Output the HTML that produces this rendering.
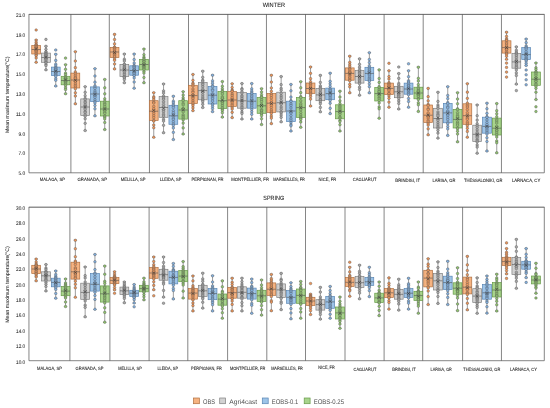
<!DOCTYPE html>
<html><head><meta charset="utf-8"><title>Seasonal mean maximum temperature box plots</title>
<style>
html,body{margin:0;padding:0;background:#fff}
body{width:550px;height:408px;overflow:hidden}
svg{display:block}
#frames{filter:blur(.33px)}
#boxes,#legend{filter:blur(.4px)}
#labels{filter:blur(.25px)}
text{font-family:"Liberation Sans",sans-serif;fill:#242424;stroke:#242424;stroke-width:.05px;text-rendering:geometricPrecision}
.c{fill:#1c1c1c;stroke:#1c1c1c;stroke-width:.08px}
.l{fill:#505050;stroke:none}
</style></head><body>
<svg width="550" height="408" viewBox="0 0 550 408">
<rect width="550" height="408" fill="#fff"/>
<g id="frames">
<path d="M28.95 14.4H544.3V172.8H28.95ZM70.9 14.4V172.8M109.3 14.4V172.8M149.45 14.4V172.8M188.5 14.4V172.8M227.8 14.4V172.8M266.45 14.4V172.8M305.5 14.4V172.8M344.45 14.4V172.8M384.1 14.4V172.8M423.2 14.4V172.8M462.35 14.4V172.8M501.45 14.4V172.8" fill="none" stroke="#4c4c4c" stroke-width=".68"/>
<path d="M28.65 14.4H544.5999999999999" fill="none" stroke="#484848" stroke-width=".4"/>
<path d="M28.95 207.2H544.3V360.7H28.95ZM69.9 207.2V360.7M109.9 207.2V360.7M149.1 207.2V360.7M187.8 207.2V360.7M227.6 207.2V360.7M266.8 207.2V360.7M305.5 207.2V360.7M345 207.2V360.7M384.1 207.2V360.7M422.7 207.2V360.7M462.6 207.2V360.7M501.45 207.2V360.7" fill="none" stroke="#4c4c4c" stroke-width=".68"/>
<path d="M28.65 207.2H544.5999999999999" fill="none" stroke="#484848" stroke-width=".4"/>
</g>
<g id="boxes">
<path d="M36.15 39.9V45.5M36.15 54V62.5M34.55 39.9h3.2M34.55 62.5h3.2" stroke="#595959" stroke-width=".6" fill="none"/><rect x="31.75" y="45.5" width="8.8" height="8.5" fill="#f6b381" stroke="#b07040" stroke-width=".7"/><path d="M31.75 49.5h8.8" stroke="#4d4d4d" stroke-width=".6"/><g fill="#ee9558" stroke="#505050" stroke-width=".4"><circle cx="36.15" cy="40.1" r="1.3"/><circle cx="36.15" cy="42.19" r="1.3"/><circle cx="36.15" cy="44.15" r="1.3"/><circle cx="36.15" cy="44.81" r="1.3"/><circle cx="36.15" cy="45.76" r="1.3"/><circle cx="36.15" cy="46.59" r="1.3"/><circle cx="36.15" cy="47.33" r="1.3"/><circle cx="36.15" cy="48.56" r="1.3"/><circle cx="36.15" cy="49.2" r="1.3"/><circle cx="36.15" cy="50.51" r="1.3"/><circle cx="36.15" cy="51.3" r="1.3"/><circle cx="36.15" cy="52.37" r="1.3"/><circle cx="36.15" cy="53.68" r="1.3"/><circle cx="36.15" cy="54.94" r="1.3"/><circle cx="36.15" cy="55.76" r="1.3"/><circle cx="36.15" cy="57.97" r="1.3"/><circle cx="36.15" cy="62.3" r="1.3"/><circle cx="36.15" cy="30" r="1.3"/></g><path d="M34.65 47.4l3 3M34.65 50.4l3 -3" stroke="#333" stroke-width=".55" fill="none"/>
<path d="M45.95 46.1V53.1M45.95 62.3V70M44.35 46.1h3.2M44.35 70h3.2" stroke="#595959" stroke-width=".6" fill="none"/><rect x="41.55" y="53.1" width="8.8" height="9.2" fill="#d2d2d2" stroke="#808080" stroke-width=".7"/><path d="M41.55 57.5h8.8" stroke="#4d4d4d" stroke-width=".6"/><g fill="#a8a8a8" stroke="#505050" stroke-width=".4"><circle cx="45.95" cy="46.3" r="1.3"/><circle cx="45.95" cy="49.31" r="1.3"/><circle cx="45.95" cy="51.75" r="1.3"/><circle cx="45.95" cy="52.22" r="1.3"/><circle cx="45.95" cy="53.62" r="1.3"/><circle cx="45.95" cy="54.24" r="1.3"/><circle cx="45.95" cy="55.17" r="1.3"/><circle cx="45.95" cy="56.19" r="1.3"/><circle cx="45.95" cy="57.36" r="1.3"/><circle cx="45.95" cy="58.88" r="1.3"/><circle cx="45.95" cy="59.51" r="1.3"/><circle cx="45.95" cy="60.95" r="1.3"/><circle cx="45.95" cy="62.13" r="1.3"/><circle cx="45.95" cy="62.77" r="1.3"/><circle cx="45.95" cy="64.39" r="1.3"/><circle cx="45.95" cy="65.66" r="1.3"/><circle cx="45.95" cy="69.8" r="1.3"/><circle cx="45.95" cy="39.4" r="1.3"/></g><path d="M44.45 55.7l3 3M44.45 58.7l3 -3" stroke="#333" stroke-width=".55" fill="none"/>
<path d="M55.75 54.1V67.1M55.75 75.6V86.2M54.15 54.1h3.2M54.15 86.2h3.2" stroke="#595959" stroke-width=".6" fill="none"/><rect x="51.35" y="67.1" width="8.8" height="8.5" fill="#9dc4e8" stroke="#5a86b4" stroke-width=".7"/><path d="M51.35 71.5h8.8" stroke="#4d4d4d" stroke-width=".6"/><g fill="#82b0e0" stroke="#505050" stroke-width=".4"><circle cx="55.75" cy="54.3" r="1.3"/><circle cx="55.75" cy="60.42" r="1.3"/><circle cx="55.75" cy="64.22" r="1.3"/><circle cx="55.75" cy="66.09" r="1.3"/><circle cx="55.75" cy="67.67" r="1.3"/><circle cx="55.75" cy="68.29" r="1.3"/><circle cx="55.75" cy="69.25" r="1.3"/><circle cx="55.75" cy="70.23" r="1.3"/><circle cx="55.75" cy="71.69" r="1.3"/><circle cx="55.75" cy="72.18" r="1.3"/><circle cx="55.75" cy="73.29" r="1.3"/><circle cx="55.75" cy="74.39" r="1.3"/><circle cx="55.75" cy="75.25" r="1.3"/><circle cx="55.75" cy="76.33" r="1.3"/><circle cx="55.75" cy="78.59" r="1.3"/><circle cx="55.75" cy="80.24" r="1.3"/><circle cx="55.75" cy="86" r="1.3"/><circle cx="55.75" cy="50" r="1.3"/></g><path d="M54.25 69.7l3 3M54.25 72.7l3 -3" stroke="#333" stroke-width=".55" fill="none"/>
<path d="M65.55 64.5V76.3M65.55 84.8V93.9M63.95 64.5h3.2M63.95 93.9h3.2" stroke="#595959" stroke-width=".6" fill="none"/><rect x="61.15" y="76.3" width="8.8" height="8.5" fill="#a8d48c" stroke="#679a48" stroke-width=".7"/><path d="M61.15 80.5h8.8" stroke="#4d4d4d" stroke-width=".6"/><g fill="#90c46e" stroke="#505050" stroke-width=".4"><circle cx="65.55" cy="64.7" r="1.3"/><circle cx="65.55" cy="69.32" r="1.3"/><circle cx="65.55" cy="73.16" r="1.3"/><circle cx="65.55" cy="74.8" r="1.3"/><circle cx="65.55" cy="76.66" r="1.3"/><circle cx="65.55" cy="77.72" r="1.3"/><circle cx="65.55" cy="78.57" r="1.3"/><circle cx="65.55" cy="79.77" r="1.3"/><circle cx="65.55" cy="80.37" r="1.3"/><circle cx="65.55" cy="81.65" r="1.3"/><circle cx="65.55" cy="82.59" r="1.3"/><circle cx="65.55" cy="83.59" r="1.3"/><circle cx="65.55" cy="84.52" r="1.3"/><circle cx="65.55" cy="85.82" r="1.3"/><circle cx="65.55" cy="87.87" r="1.3"/><circle cx="65.55" cy="89.49" r="1.3"/><circle cx="65.55" cy="93.7" r="1.3"/><circle cx="65.55" cy="58.1" r="1.3"/></g><path d="M64.05 78.4l3 3M64.05 81.4l3 -3" stroke="#333" stroke-width=".55" fill="none"/>
<path d="M75.35 51.5V73.1M75.35 88V104M73.75 51.5h3.2M73.75 104h3.2" stroke="#595959" stroke-width=".6" fill="none"/><rect x="70.95" y="73.1" width="8.8" height="14.9" fill="#f6b381" stroke="#b07040" stroke-width=".7"/><path d="M70.95 80h8.8" stroke="#4d4d4d" stroke-width=".6"/><g fill="#ee9558" stroke="#505050" stroke-width=".4"><circle cx="75.35" cy="51.7" r="1.3"/><circle cx="75.35" cy="61.03" r="1.3"/><circle cx="75.35" cy="67.66" r="1.3"/><circle cx="75.35" cy="71.89" r="1.3"/><circle cx="75.35" cy="73.44" r="1.3"/><circle cx="75.35" cy="75.38" r="1.3"/><circle cx="75.35" cy="77.19" r="1.3"/><circle cx="75.35" cy="78.2" r="1.3"/><circle cx="75.35" cy="80.58" r="1.3"/><circle cx="75.35" cy="81.69" r="1.3"/><circle cx="75.35" cy="83.91" r="1.3"/><circle cx="75.35" cy="85.64" r="1.3"/><circle cx="75.35" cy="87.16" r="1.3"/><circle cx="75.35" cy="88.85" r="1.3"/><circle cx="75.35" cy="92.85" r="1.3"/><circle cx="75.35" cy="96.01" r="1.3"/><circle cx="75.35" cy="103.8" r="1.3"/></g><path d="M73.85 78.8l3 3M73.85 81.8l3 -3" stroke="#333" stroke-width=".55" fill="none"/>
<path d="M85.15 86.5V98.9M85.15 115.4V130.7M83.55 86.5h3.2M83.55 130.7h3.2" stroke="#595959" stroke-width=".6" fill="none"/><rect x="80.75" y="98.9" width="8.8" height="16.5" fill="#d2d2d2" stroke="#808080" stroke-width=".7"/><path d="M80.75 107h8.8" stroke="#4d4d4d" stroke-width=".6"/><g fill="#a8a8a8" stroke="#505050" stroke-width=".4"><circle cx="85.15" cy="86.7" r="1.3"/><circle cx="85.15" cy="92.32" r="1.3"/><circle cx="85.15" cy="95.72" r="1.3"/><circle cx="85.15" cy="98.43" r="1.3"/><circle cx="85.15" cy="99.8" r="1.3"/><circle cx="85.15" cy="101.77" r="1.3"/><circle cx="85.15" cy="102.89" r="1.3"/><circle cx="85.15" cy="104.98" r="1.3"/><circle cx="85.15" cy="106.81" r="1.3"/><circle cx="85.15" cy="109.51" r="1.3"/><circle cx="85.15" cy="111.59" r="1.3"/><circle cx="85.15" cy="112.45" r="1.3"/><circle cx="85.15" cy="114.46" r="1.3"/><circle cx="85.15" cy="116.14" r="1.3"/><circle cx="85.15" cy="118.81" r="1.3"/><circle cx="85.15" cy="123.32" r="1.3"/><circle cx="85.15" cy="130.5" r="1.3"/></g><path d="M83.65 105.5l3 3M83.65 108.5l3 -3" stroke="#333" stroke-width=".55" fill="none"/>
<path d="M94.95 68.5V86.9M94.95 101.6V116M93.35 68.5h3.2M93.35 116h3.2" stroke="#595959" stroke-width=".6" fill="none"/><rect x="90.55" y="86.9" width="8.8" height="14.7" fill="#9dc4e8" stroke="#5a86b4" stroke-width=".7"/><path d="M90.55 94h8.8" stroke="#4d4d4d" stroke-width=".6"/><g fill="#82b0e0" stroke="#505050" stroke-width=".4"><circle cx="94.95" cy="68.7" r="1.3"/><circle cx="94.95" cy="76" r="1.3"/><circle cx="94.95" cy="82.14" r="1.3"/><circle cx="94.95" cy="85.74" r="1.3"/><circle cx="94.95" cy="87.11" r="1.3"/><circle cx="94.95" cy="88.55" r="1.3"/><circle cx="94.95" cy="91.08" r="1.3"/><circle cx="94.95" cy="92.86" r="1.3"/><circle cx="94.95" cy="94.19" r="1.3"/><circle cx="94.95" cy="96.09" r="1.3"/><circle cx="94.95" cy="97.52" r="1.3"/><circle cx="94.95" cy="99.83" r="1.3"/><circle cx="94.95" cy="101.63" r="1.3"/><circle cx="94.95" cy="102.95" r="1.3"/><circle cx="94.95" cy="105.54" r="1.3"/><circle cx="94.95" cy="108.81" r="1.3"/><circle cx="94.95" cy="115.8" r="1.3"/></g><path d="M93.45 92.8l3 3M93.45 95.8l3 -3" stroke="#333" stroke-width=".55" fill="none"/>
<path d="M104.75 79.3V101.2M104.75 116V129.7M103.15 79.3h3.2M103.15 129.7h3.2" stroke="#595959" stroke-width=".6" fill="none"/><rect x="100.35" y="101.2" width="8.8" height="14.8" fill="#a8d48c" stroke="#679a48" stroke-width=".7"/><path d="M100.35 109h8.8" stroke="#4d4d4d" stroke-width=".6"/><g fill="#90c46e" stroke="#505050" stroke-width=".4"><circle cx="104.75" cy="79.5" r="1.3"/><circle cx="104.75" cy="87.84" r="1.3"/><circle cx="104.75" cy="93.85" r="1.3"/><circle cx="104.75" cy="98.87" r="1.3"/><circle cx="104.75" cy="101.22" r="1.3"/><circle cx="104.75" cy="103.29" r="1.3"/><circle cx="104.75" cy="104.75" r="1.3"/><circle cx="104.75" cy="106.52" r="1.3"/><circle cx="104.75" cy="108.55" r="1.3"/><circle cx="104.75" cy="110.19" r="1.3"/><circle cx="104.75" cy="112.14" r="1.3"/><circle cx="104.75" cy="113.39" r="1.3"/><circle cx="104.75" cy="116" r="1.3"/><circle cx="104.75" cy="117.18" r="1.3"/><circle cx="104.75" cy="118.88" r="1.3"/><circle cx="104.75" cy="122.47" r="1.3"/><circle cx="104.75" cy="129.5" r="1.3"/></g><path d="M103.25 107.5l3 3M103.25 110.5l3 -3" stroke="#333" stroke-width=".55" fill="none"/>
<path d="M114.55 34.2V47.4M114.55 57.5V69.1M112.95 34.2h3.2M112.95 69.1h3.2" stroke="#595959" stroke-width=".6" fill="none"/><rect x="110.15" y="47.4" width="8.8" height="10.1" fill="#f6b381" stroke="#b07040" stroke-width=".7"/><path d="M110.15 52h8.8" stroke="#4d4d4d" stroke-width=".6"/><g fill="#ee9558" stroke="#505050" stroke-width=".4"><circle cx="114.55" cy="34.4" r="1.3"/><circle cx="114.55" cy="39.5" r="1.3"/><circle cx="114.55" cy="43.89" r="1.3"/><circle cx="114.55" cy="47" r="1.3"/><circle cx="114.55" cy="47.66" r="1.3"/><circle cx="114.55" cy="48.61" r="1.3"/><circle cx="114.55" cy="49.57" r="1.3"/><circle cx="114.55" cy="51.11" r="1.3"/><circle cx="114.55" cy="52.22" r="1.3"/><circle cx="114.55" cy="53.27" r="1.3"/><circle cx="114.55" cy="54.76" r="1.3"/><circle cx="114.55" cy="55.9" r="1.3"/><circle cx="114.55" cy="56.91" r="1.3"/><circle cx="114.55" cy="58.96" r="1.3"/><circle cx="114.55" cy="60.31" r="1.3"/><circle cx="114.55" cy="63.98" r="1.3"/><circle cx="114.55" cy="68.9" r="1.3"/></g><path d="M113.05 51.1l3 3M113.05 54.1l3 -3" stroke="#333" stroke-width=".55" fill="none"/>
<path d="M124.35 53.9V64.5M124.35 76.5V82.9M122.75 53.9h3.2M122.75 82.9h3.2" stroke="#595959" stroke-width=".6" fill="none"/><rect x="119.95" y="64.5" width="8.8" height="12" fill="#d2d2d2" stroke="#808080" stroke-width=".7"/><path d="M119.95 70h8.8" stroke="#4d4d4d" stroke-width=".6"/><g fill="#a8a8a8" stroke="#505050" stroke-width=".4"><circle cx="124.35" cy="54.1" r="1.3"/><circle cx="124.35" cy="59.28" r="1.3"/><circle cx="124.35" cy="60.98" r="1.3"/><circle cx="124.35" cy="64.06" r="1.3"/><circle cx="124.35" cy="64.84" r="1.3"/><circle cx="124.35" cy="66.49" r="1.3"/><circle cx="124.35" cy="67.28" r="1.3"/><circle cx="124.35" cy="68.45" r="1.3"/><circle cx="124.35" cy="70.04" r="1.3"/><circle cx="124.35" cy="71.53" r="1.3"/><circle cx="124.35" cy="73.2" r="1.3"/><circle cx="124.35" cy="74.71" r="1.3"/><circle cx="124.35" cy="76.43" r="1.3"/><circle cx="124.35" cy="77.16" r="1.3"/><circle cx="124.35" cy="77.89" r="1.3"/><circle cx="124.35" cy="79.51" r="1.3"/><circle cx="124.35" cy="82.7" r="1.3"/></g><path d="M122.85 68.2l3 3M122.85 71.2l3 -3" stroke="#333" stroke-width=".55" fill="none"/>
<path d="M134.15 53.9V65.8M134.15 75.2V88.4M132.55 53.9h3.2M132.55 88.4h3.2" stroke="#595959" stroke-width=".6" fill="none"/><rect x="129.75" y="65.8" width="8.8" height="9.4" fill="#9dc4e8" stroke="#5a86b4" stroke-width=".7"/><path d="M129.75 70.5h8.8" stroke="#4d4d4d" stroke-width=".6"/><g fill="#82b0e0" stroke="#505050" stroke-width=".4"><circle cx="134.15" cy="54.1" r="1.3"/><circle cx="134.15" cy="59.59" r="1.3"/><circle cx="134.15" cy="63.08" r="1.3"/><circle cx="134.15" cy="65.45" r="1.3"/><circle cx="134.15" cy="66.3" r="1.3"/><circle cx="134.15" cy="67.16" r="1.3"/><circle cx="134.15" cy="68.05" r="1.3"/><circle cx="134.15" cy="69.48" r="1.3"/><circle cx="134.15" cy="70.38" r="1.3"/><circle cx="134.15" cy="71.84" r="1.3"/><circle cx="134.15" cy="72.88" r="1.3"/><circle cx="134.15" cy="73.7" r="1.3"/><circle cx="134.15" cy="75.24" r="1.3"/><circle cx="134.15" cy="75.66" r="1.3"/><circle cx="134.15" cy="77.89" r="1.3"/><circle cx="134.15" cy="81.99" r="1.3"/><circle cx="134.15" cy="88.2" r="1.3"/></g><path d="M132.65 69.3l3 3M132.65 72.3l3 -3" stroke="#333" stroke-width=".55" fill="none"/>
<path d="M143.95 48.9V59.4M143.95 70V82.9M142.35 48.9h3.2M142.35 82.9h3.2" stroke="#595959" stroke-width=".6" fill="none"/><rect x="139.55" y="59.4" width="8.8" height="10.6" fill="#a8d48c" stroke="#679a48" stroke-width=".7"/><path d="M139.55 64.5h8.8" stroke="#4d4d4d" stroke-width=".6"/><g fill="#90c46e" stroke="#505050" stroke-width=".4"><circle cx="143.95" cy="49.1" r="1.3"/><circle cx="143.95" cy="54.75" r="1.3"/><circle cx="143.95" cy="57.17" r="1.3"/><circle cx="143.95" cy="58.6" r="1.3"/><circle cx="143.95" cy="59.83" r="1.3"/><circle cx="143.95" cy="61.15" r="1.3"/><circle cx="143.95" cy="61.75" r="1.3"/><circle cx="143.95" cy="63.43" r="1.3"/><circle cx="143.95" cy="64.87" r="1.3"/><circle cx="143.95" cy="66.05" r="1.3"/><circle cx="143.95" cy="67.31" r="1.3"/><circle cx="143.95" cy="68.36" r="1.3"/><circle cx="143.95" cy="69.39" r="1.3"/><circle cx="143.95" cy="71.37" r="1.3"/><circle cx="143.95" cy="73.07" r="1.3"/><circle cx="143.95" cy="77.5" r="1.3"/><circle cx="143.95" cy="82.7" r="1.3"/></g><path d="M142.45 63.3l3 3M142.45 66.3l3 -3" stroke="#333" stroke-width=".55" fill="none"/>
<path d="M153.75 92.5V100.7M153.75 120.4V137.5M152.15 92.5h3.2M152.15 137.5h3.2" stroke="#595959" stroke-width=".6" fill="none"/><rect x="149.35" y="100.7" width="8.8" height="19.7" fill="#f6b381" stroke="#b07040" stroke-width=".7"/><path d="M149.35 111.2h8.8" stroke="#4d4d4d" stroke-width=".6"/><g fill="#ee9558" stroke="#505050" stroke-width=".4"><circle cx="153.75" cy="92.7" r="1.3"/><circle cx="153.75" cy="96.82" r="1.3"/><circle cx="153.75" cy="97.97" r="1.3"/><circle cx="153.75" cy="99.78" r="1.3"/><circle cx="153.75" cy="102.17" r="1.3"/><circle cx="153.75" cy="102.97" r="1.3"/><circle cx="153.75" cy="106.42" r="1.3"/><circle cx="153.75" cy="108.67" r="1.3"/><circle cx="153.75" cy="111.44" r="1.3"/><circle cx="153.75" cy="113.53" r="1.3"/><circle cx="153.75" cy="115.67" r="1.3"/><circle cx="153.75" cy="117.66" r="1.3"/><circle cx="153.75" cy="120.43" r="1.3"/><circle cx="153.75" cy="121.11" r="1.3"/><circle cx="153.75" cy="125.05" r="1.3"/><circle cx="153.75" cy="127.72" r="1.3"/><circle cx="153.75" cy="137.3" r="1.3"/></g><path d="M152.25 109.1l3 3M152.25 112.1l3 -3" stroke="#333" stroke-width=".55" fill="none"/>
<path d="M163.55 83.8V96.5M163.55 117.3V132.9M161.95 83.8h3.2M161.95 132.9h3.2" stroke="#595959" stroke-width=".6" fill="none"/><rect x="159.15" y="96.5" width="8.8" height="20.8" fill="#d2d2d2" stroke="#808080" stroke-width=".7"/><path d="M159.15 107.5h8.8" stroke="#4d4d4d" stroke-width=".6"/><g fill="#a8a8a8" stroke="#505050" stroke-width=".4"><circle cx="163.55" cy="84" r="1.3"/><circle cx="163.55" cy="90.95" r="1.3"/><circle cx="163.55" cy="93.01" r="1.3"/><circle cx="163.55" cy="96" r="1.3"/><circle cx="163.55" cy="97.74" r="1.3"/><circle cx="163.55" cy="99.21" r="1.3"/><circle cx="163.55" cy="101.87" r="1.3"/><circle cx="163.55" cy="104.54" r="1.3"/><circle cx="163.55" cy="107.03" r="1.3"/><circle cx="163.55" cy="109.95" r="1.3"/><circle cx="163.55" cy="111.72" r="1.3"/><circle cx="163.55" cy="114.29" r="1.3"/><circle cx="163.55" cy="116.13" r="1.3"/><circle cx="163.55" cy="119.18" r="1.3"/><circle cx="163.55" cy="121.07" r="1.3"/><circle cx="163.55" cy="125.29" r="1.3"/><circle cx="163.55" cy="132.7" r="1.3"/></g><path d="M162.05 106.6l3 3M162.05 109.6l3 -3" stroke="#333" stroke-width=".55" fill="none"/>
<path d="M173.35 96.1V105.3M173.35 124.3V139.7M171.75 96.1h3.2M171.75 139.7h3.2" stroke="#595959" stroke-width=".6" fill="none"/><rect x="168.95" y="105.3" width="8.8" height="19" fill="#9dc4e8" stroke="#5a86b4" stroke-width=".7"/><path d="M168.95 115.8h8.8" stroke="#4d4d4d" stroke-width=".6"/><g fill="#82b0e0" stroke="#505050" stroke-width=".4"><circle cx="173.35" cy="96.3" r="1.3"/><circle cx="173.35" cy="101.25" r="1.3"/><circle cx="173.35" cy="102.87" r="1.3"/><circle cx="173.35" cy="104.65" r="1.3"/><circle cx="173.35" cy="105.96" r="1.3"/><circle cx="173.35" cy="107.56" r="1.3"/><circle cx="173.35" cy="110.76" r="1.3"/><circle cx="173.35" cy="112.78" r="1.3"/><circle cx="173.35" cy="114.94" r="1.3"/><circle cx="173.35" cy="118.22" r="1.3"/><circle cx="173.35" cy="119.34" r="1.3"/><circle cx="173.35" cy="121.76" r="1.3"/><circle cx="173.35" cy="124.12" r="1.3"/><circle cx="173.35" cy="125.53" r="1.3"/><circle cx="173.35" cy="127.95" r="1.3"/><circle cx="173.35" cy="132.37" r="1.3"/><circle cx="173.35" cy="139.5" r="1.3"/></g><path d="M171.85 113.7l3 3M171.85 116.7l3 -3" stroke="#333" stroke-width=".55" fill="none"/>
<path d="M183.15 91.5V100.7M183.15 119.1V134.2M181.55 91.5h3.2M181.55 134.2h3.2" stroke="#595959" stroke-width=".6" fill="none"/><rect x="178.75" y="100.7" width="8.8" height="18.4" fill="#a8d48c" stroke="#679a48" stroke-width=".7"/><path d="M178.75 110h8.8" stroke="#4d4d4d" stroke-width=".6"/><g fill="#90c46e" stroke="#505050" stroke-width=".4"><circle cx="183.15" cy="91.7" r="1.3"/><circle cx="183.15" cy="95.08" r="1.3"/><circle cx="183.15" cy="97.81" r="1.3"/><circle cx="183.15" cy="99.54" r="1.3"/><circle cx="183.15" cy="100.69" r="1.3"/><circle cx="183.15" cy="103.36" r="1.3"/><circle cx="183.15" cy="104.9" r="1.3"/><circle cx="183.15" cy="108.42" r="1.3"/><circle cx="183.15" cy="109.33" r="1.3"/><circle cx="183.15" cy="111.88" r="1.3"/><circle cx="183.15" cy="114.99" r="1.3"/><circle cx="183.15" cy="116.58" r="1.3"/><circle cx="183.15" cy="118.11" r="1.3"/><circle cx="183.15" cy="119.89" r="1.3"/><circle cx="183.15" cy="123.11" r="1.3"/><circle cx="183.15" cy="127.9" r="1.3"/><circle cx="183.15" cy="134" r="1.3"/></g><path d="M181.65 108.2l3 3M181.65 111.2l3 -3" stroke="#333" stroke-width=".55" fill="none"/>
<path d="M192.95 74.3V85.3M192.95 103.5V110.8M191.35 74.3h3.2M191.35 110.8h3.2" stroke="#595959" stroke-width=".6" fill="none"/><rect x="188.55" y="85.3" width="8.8" height="18.2" fill="#f6b381" stroke="#b07040" stroke-width=".7"/><path d="M188.55 95.6h8.8" stroke="#4d4d4d" stroke-width=".6"/><g fill="#ee9558" stroke="#505050" stroke-width=".4"><circle cx="192.95" cy="74.5" r="1.3"/><circle cx="192.95" cy="80.38" r="1.3"/><circle cx="192.95" cy="83.13" r="1.3"/><circle cx="192.95" cy="84.2" r="1.3"/><circle cx="192.95" cy="86.01" r="1.3"/><circle cx="192.95" cy="89.08" r="1.3"/><circle cx="192.95" cy="91.33" r="1.3"/><circle cx="192.95" cy="92.56" r="1.3"/><circle cx="192.95" cy="94.96" r="1.3"/><circle cx="192.95" cy="97.38" r="1.3"/><circle cx="192.95" cy="98.76" r="1.3"/><circle cx="192.95" cy="100.84" r="1.3"/><circle cx="192.95" cy="102.48" r="1.3"/><circle cx="192.95" cy="104.17" r="1.3"/><circle cx="192.95" cy="105.77" r="1.3"/><circle cx="192.95" cy="107.89" r="1.3"/><circle cx="192.95" cy="110.6" r="1.3"/></g><path d="M191.45 94.1l3 3M191.45 97.1l3 -3" stroke="#333" stroke-width=".55" fill="none"/>
<path d="M202.75 71V82.4M202.75 99.8V107.7M201.15 71h3.2M201.15 107.7h3.2" stroke="#595959" stroke-width=".6" fill="none"/><rect x="198.35" y="82.4" width="8.8" height="17.4" fill="#d2d2d2" stroke="#808080" stroke-width=".7"/><path d="M198.35 90.6h8.8" stroke="#4d4d4d" stroke-width=".6"/><g fill="#a8a8a8" stroke="#505050" stroke-width=".4"><circle cx="202.75" cy="71.2" r="1.3"/><circle cx="202.75" cy="77.31" r="1.3"/><circle cx="202.75" cy="80.19" r="1.3"/><circle cx="202.75" cy="81.2" r="1.3"/><circle cx="202.75" cy="83.49" r="1.3"/><circle cx="202.75" cy="84.67" r="1.3"/><circle cx="202.75" cy="86.72" r="1.3"/><circle cx="202.75" cy="89.33" r="1.3"/><circle cx="202.75" cy="91.1" r="1.3"/><circle cx="202.75" cy="92.25" r="1.3"/><circle cx="202.75" cy="94.83" r="1.3"/><circle cx="202.75" cy="97.12" r="1.3"/><circle cx="202.75" cy="99.02" r="1.3"/><circle cx="202.75" cy="100.15" r="1.3"/><circle cx="202.75" cy="101.66" r="1.3"/><circle cx="202.75" cy="104.27" r="1.3"/><circle cx="202.75" cy="107.5" r="1.3"/></g><path d="M201.25 89.7l3 3M201.25 92.7l3 -3" stroke="#333" stroke-width=".55" fill="none"/>
<path d="M212.55 75V86.4M212.55 104V111.8M210.95 75h3.2M210.95 111.8h3.2" stroke="#595959" stroke-width=".6" fill="none"/><rect x="208.15" y="86.4" width="8.8" height="17.6" fill="#9dc4e8" stroke="#5a86b4" stroke-width=".7"/><path d="M208.15 95.2h8.8" stroke="#4d4d4d" stroke-width=".6"/><g fill="#82b0e0" stroke="#505050" stroke-width=".4"><circle cx="212.55" cy="75.2" r="1.3"/><circle cx="212.55" cy="80.92" r="1.3"/><circle cx="212.55" cy="83.18" r="1.3"/><circle cx="212.55" cy="85.58" r="1.3"/><circle cx="212.55" cy="86.62" r="1.3"/><circle cx="212.55" cy="89.66" r="1.3"/><circle cx="212.55" cy="90.5" r="1.3"/><circle cx="212.55" cy="93.74" r="1.3"/><circle cx="212.55" cy="94.81" r="1.3"/><circle cx="212.55" cy="97.82" r="1.3"/><circle cx="212.55" cy="98.74" r="1.3"/><circle cx="212.55" cy="101.08" r="1.3"/><circle cx="212.55" cy="104.01" r="1.3"/><circle cx="212.55" cy="104.34" r="1.3"/><circle cx="212.55" cy="106.39" r="1.3"/><circle cx="212.55" cy="108.57" r="1.3"/><circle cx="212.55" cy="111.6" r="1.3"/></g><path d="M211.05 93.7l3 3M211.05 96.7l3 -3" stroke="#333" stroke-width=".55" fill="none"/>
<path d="M222.35 81.4V91.5M222.35 108.6V117.3M220.75 81.4h3.2M220.75 117.3h3.2" stroke="#595959" stroke-width=".6" fill="none"/><rect x="217.95" y="91.5" width="8.8" height="17.1" fill="#a8d48c" stroke="#679a48" stroke-width=".7"/><path d="M217.95 100.7h8.8" stroke="#4d4d4d" stroke-width=".6"/><g fill="#90c46e" stroke="#505050" stroke-width=".4"><circle cx="222.35" cy="81.6" r="1.3"/><circle cx="222.35" cy="86.32" r="1.3"/><circle cx="222.35" cy="88.85" r="1.3"/><circle cx="222.35" cy="90.75" r="1.3"/><circle cx="222.35" cy="91.78" r="1.3"/><circle cx="222.35" cy="93.87" r="1.3"/><circle cx="222.35" cy="96.82" r="1.3"/><circle cx="222.35" cy="98.06" r="1.3"/><circle cx="222.35" cy="101.21" r="1.3"/><circle cx="222.35" cy="102.26" r="1.3"/><circle cx="222.35" cy="103.79" r="1.3"/><circle cx="222.35" cy="105.74" r="1.3"/><circle cx="222.35" cy="107.82" r="1.3"/><circle cx="222.35" cy="109.35" r="1.3"/><circle cx="222.35" cy="110.53" r="1.3"/><circle cx="222.35" cy="112.73" r="1.3"/><circle cx="222.35" cy="117.1" r="1.3"/></g><path d="M220.85 98.6l3 3M220.85 101.6l3 -3" stroke="#333" stroke-width=".55" fill="none"/>
<path d="M232.15 83.6V91.6M232.15 106.4V117.8M230.55 83.6h3.2M230.55 117.8h3.2" stroke="#595959" stroke-width=".6" fill="none"/><rect x="227.75" y="91.6" width="8.8" height="14.8" fill="#f6b381" stroke="#b07040" stroke-width=".7"/><path d="M227.75 100h8.8" stroke="#4d4d4d" stroke-width=".6"/><g fill="#ee9558" stroke="#505050" stroke-width=".4"><circle cx="232.15" cy="83.8" r="1.3"/><circle cx="232.15" cy="87.52" r="1.3"/><circle cx="232.15" cy="90" r="1.3"/><circle cx="232.15" cy="90.8" r="1.3"/><circle cx="232.15" cy="91.6" r="1.3"/><circle cx="232.15" cy="94.11" r="1.3"/><circle cx="232.15" cy="95.69" r="1.3"/><circle cx="232.15" cy="97.48" r="1.3"/><circle cx="232.15" cy="99.53" r="1.3"/><circle cx="232.15" cy="101.03" r="1.3"/><circle cx="232.15" cy="102.7" r="1.3"/><circle cx="232.15" cy="104.32" r="1.3"/><circle cx="232.15" cy="105.82" r="1.3"/><circle cx="232.15" cy="107.57" r="1.3"/><circle cx="232.15" cy="109.04" r="1.3"/><circle cx="232.15" cy="112.33" r="1.3"/><circle cx="232.15" cy="117.6" r="1.3"/></g><path d="M230.65 98.5l3 3M230.65 101.5l3 -3" stroke="#333" stroke-width=".55" fill="none"/>
<path d="M241.95 83.4V92.6M241.95 108.2V119.2M240.35 83.4h3.2M240.35 119.2h3.2" stroke="#595959" stroke-width=".6" fill="none"/><rect x="237.55" y="92.6" width="8.8" height="15.6" fill="#d2d2d2" stroke="#808080" stroke-width=".7"/><path d="M237.55 100.8h8.8" stroke="#4d4d4d" stroke-width=".6"/><g fill="#a8a8a8" stroke="#505050" stroke-width=".4"><circle cx="241.95" cy="83.6" r="1.3"/><circle cx="241.95" cy="88.69" r="1.3"/><circle cx="241.95" cy="89.46" r="1.3"/><circle cx="241.95" cy="91.41" r="1.3"/><circle cx="241.95" cy="93.09" r="1.3"/><circle cx="241.95" cy="95.66" r="1.3"/><circle cx="241.95" cy="96.96" r="1.3"/><circle cx="241.95" cy="98.53" r="1.3"/><circle cx="241.95" cy="100.73" r="1.3"/><circle cx="241.95" cy="102.73" r="1.3"/><circle cx="241.95" cy="104.47" r="1.3"/><circle cx="241.95" cy="106.21" r="1.3"/><circle cx="241.95" cy="107.82" r="1.3"/><circle cx="241.95" cy="109.5" r="1.3"/><circle cx="241.95" cy="111.96" r="1.3"/><circle cx="241.95" cy="113.51" r="1.3"/><circle cx="241.95" cy="119" r="1.3"/></g><path d="M240.45 99l3 3M240.45 102l3 -3" stroke="#333" stroke-width=".55" fill="none"/>
<path d="M251.75 83.4V93.5M251.75 108.2V119.2M250.15 83.4h3.2M250.15 119.2h3.2" stroke="#595959" stroke-width=".6" fill="none"/><rect x="247.35" y="93.5" width="8.8" height="14.7" fill="#9dc4e8" stroke="#5a86b4" stroke-width=".7"/><path d="M247.35 101.2h8.8" stroke="#4d4d4d" stroke-width=".6"/><g fill="#82b0e0" stroke="#505050" stroke-width=".4"><circle cx="251.75" cy="83.6" r="1.3"/><circle cx="251.75" cy="88.9" r="1.3"/><circle cx="251.75" cy="91.16" r="1.3"/><circle cx="251.75" cy="92.89" r="1.3"/><circle cx="251.75" cy="93.83" r="1.3"/><circle cx="251.75" cy="95.57" r="1.3"/><circle cx="251.75" cy="97.01" r="1.3"/><circle cx="251.75" cy="98.92" r="1.3"/><circle cx="251.75" cy="100.66" r="1.3"/><circle cx="251.75" cy="103.12" r="1.3"/><circle cx="251.75" cy="104.21" r="1.3"/><circle cx="251.75" cy="105.75" r="1.3"/><circle cx="251.75" cy="107.31" r="1.3"/><circle cx="251.75" cy="109.43" r="1.3"/><circle cx="251.75" cy="111.78" r="1.3"/><circle cx="251.75" cy="114.3" r="1.3"/><circle cx="251.75" cy="119" r="1.3"/></g><path d="M250.25 99.4l3 3M250.25 102.4l3 -3" stroke="#333" stroke-width=".55" fill="none"/>
<path d="M261.55 88.5V97.5M261.55 113.3V124.7M259.95 88.5h3.2M259.95 124.7h3.2" stroke="#595959" stroke-width=".6" fill="none"/><rect x="257.15" y="97.5" width="8.8" height="15.8" fill="#a8d48c" stroke="#679a48" stroke-width=".7"/><path d="M257.15 105.8h8.8" stroke="#4d4d4d" stroke-width=".6"/><g fill="#90c46e" stroke="#505050" stroke-width=".4"><circle cx="261.55" cy="88.7" r="1.3"/><circle cx="261.55" cy="91.98" r="1.3"/><circle cx="261.55" cy="94.66" r="1.3"/><circle cx="261.55" cy="96.61" r="1.3"/><circle cx="261.55" cy="97.47" r="1.3"/><circle cx="261.55" cy="99.76" r="1.3"/><circle cx="261.55" cy="101.66" r="1.3"/><circle cx="261.55" cy="104.51" r="1.3"/><circle cx="261.55" cy="105.56" r="1.3"/><circle cx="261.55" cy="106.99" r="1.3"/><circle cx="261.55" cy="109.8" r="1.3"/><circle cx="261.55" cy="110.75" r="1.3"/><circle cx="261.55" cy="112.47" r="1.3"/><circle cx="261.55" cy="113.96" r="1.3"/><circle cx="261.55" cy="115.59" r="1.3"/><circle cx="261.55" cy="118.74" r="1.3"/><circle cx="261.55" cy="124.5" r="1.3"/></g><path d="M260.05 104l3 3M260.05 107l3 -3" stroke="#333" stroke-width=".55" fill="none"/>
<path d="M271.35 75.1V93.5M271.35 112.4V123.8M269.75 75.1h3.2M269.75 123.8h3.2" stroke="#595959" stroke-width=".6" fill="none"/><rect x="266.95" y="93.5" width="8.8" height="18.9" fill="#f6b381" stroke="#b07040" stroke-width=".7"/><path d="M266.95 103.2h8.8" stroke="#4d4d4d" stroke-width=".6"/><g fill="#ee9558" stroke="#505050" stroke-width=".4"><circle cx="271.35" cy="75.3" r="1.3"/><circle cx="271.35" cy="82.06" r="1.3"/><circle cx="271.35" cy="87.93" r="1.3"/><circle cx="271.35" cy="91.28" r="1.3"/><circle cx="271.35" cy="93.91" r="1.3"/><circle cx="271.35" cy="95.62" r="1.3"/><circle cx="271.35" cy="97.87" r="1.3"/><circle cx="271.35" cy="100.6" r="1.3"/><circle cx="271.35" cy="102.77" r="1.3"/><circle cx="271.35" cy="105.49" r="1.3"/><circle cx="271.35" cy="107.57" r="1.3"/><circle cx="271.35" cy="110.07" r="1.3"/><circle cx="271.35" cy="112.1" r="1.3"/><circle cx="271.35" cy="113.51" r="1.3"/><circle cx="271.35" cy="116.12" r="1.3"/><circle cx="271.35" cy="118.09" r="1.3"/><circle cx="271.35" cy="123.6" r="1.3"/></g><path d="M269.85 102l3 3M269.85 105l3 -3" stroke="#333" stroke-width=".55" fill="none"/>
<path d="M281.15 76.4V92.2M281.15 111.9V122M279.55 76.4h3.2M279.55 122h3.2" stroke="#595959" stroke-width=".6" fill="none"/><rect x="276.75" y="92.2" width="8.8" height="19.7" fill="#d2d2d2" stroke="#808080" stroke-width=".7"/><path d="M276.75 102.7h8.8" stroke="#4d4d4d" stroke-width=".6"/><g fill="#a8a8a8" stroke="#505050" stroke-width=".4"><circle cx="281.15" cy="76.6" r="1.3"/><circle cx="281.15" cy="84.67" r="1.3"/><circle cx="281.15" cy="88.38" r="1.3"/><circle cx="281.15" cy="90.21" r="1.3"/><circle cx="281.15" cy="93.4" r="1.3"/><circle cx="281.15" cy="95.97" r="1.3"/><circle cx="281.15" cy="97.98" r="1.3"/><circle cx="281.15" cy="100.63" r="1.3"/><circle cx="281.15" cy="103.17" r="1.3"/><circle cx="281.15" cy="104.32" r="1.3"/><circle cx="281.15" cy="107.07" r="1.3"/><circle cx="281.15" cy="109.2" r="1.3"/><circle cx="281.15" cy="111.87" r="1.3"/><circle cx="281.15" cy="112.99" r="1.3"/><circle cx="281.15" cy="115.11" r="1.3"/><circle cx="281.15" cy="117.33" r="1.3"/><circle cx="281.15" cy="121.8" r="1.3"/></g><path d="M279.65 100.9l3 3M279.65 103.9l3 -3" stroke="#333" stroke-width=".55" fill="none"/>
<path d="M290.95 84.3V101.2M290.95 121.6V131.2M289.35 84.3h3.2M289.35 131.2h3.2" stroke="#595959" stroke-width=".6" fill="none"/><rect x="286.55" y="101.2" width="8.8" height="20.4" fill="#9dc4e8" stroke="#5a86b4" stroke-width=".7"/><path d="M286.55 111h8.8" stroke="#4d4d4d" stroke-width=".6"/><g fill="#82b0e0" stroke="#505050" stroke-width=".4"><circle cx="290.95" cy="84.5" r="1.3"/><circle cx="290.95" cy="90.82" r="1.3"/><circle cx="290.95" cy="97.1" r="1.3"/><circle cx="290.95" cy="100.66" r="1.3"/><circle cx="290.95" cy="101.58" r="1.3"/><circle cx="290.95" cy="104" r="1.3"/><circle cx="290.95" cy="105.66" r="1.3"/><circle cx="290.95" cy="107.92" r="1.3"/><circle cx="290.95" cy="111.05" r="1.3"/><circle cx="290.95" cy="113.05" r="1.3"/><circle cx="290.95" cy="115.58" r="1.3"/><circle cx="290.95" cy="118.41" r="1.3"/><circle cx="290.95" cy="120.23" r="1.3"/><circle cx="290.95" cy="122.78" r="1.3"/><circle cx="290.95" cy="124.77" r="1.3"/><circle cx="290.95" cy="125.84" r="1.3"/><circle cx="290.95" cy="131" r="1.3"/></g><path d="M289.45 109.8l3 3M289.45 112.8l3 -3" stroke="#333" stroke-width=".55" fill="none"/>
<path d="M300.75 81.5V97.5M300.75 117.4V127.5M299.15 81.5h3.2M299.15 127.5h3.2" stroke="#595959" stroke-width=".6" fill="none"/><rect x="296.35" y="97.5" width="8.8" height="19.9" fill="#a8d48c" stroke="#679a48" stroke-width=".7"/><path d="M296.35 107.6h8.8" stroke="#4d4d4d" stroke-width=".6"/><g fill="#90c46e" stroke="#505050" stroke-width=".4"><circle cx="300.75" cy="81.7" r="1.3"/><circle cx="300.75" cy="87.78" r="1.3"/><circle cx="300.75" cy="92.66" r="1.3"/><circle cx="300.75" cy="96.67" r="1.3"/><circle cx="300.75" cy="97.6" r="1.3"/><circle cx="300.75" cy="100.87" r="1.3"/><circle cx="300.75" cy="103.64" r="1.3"/><circle cx="300.75" cy="105.21" r="1.3"/><circle cx="300.75" cy="107.4" r="1.3"/><circle cx="300.75" cy="109.87" r="1.3"/><circle cx="300.75" cy="112.51" r="1.3"/><circle cx="300.75" cy="114.95" r="1.3"/><circle cx="300.75" cy="117.01" r="1.3"/><circle cx="300.75" cy="118.3" r="1.3"/><circle cx="300.75" cy="119.42" r="1.3"/><circle cx="300.75" cy="121.97" r="1.3"/><circle cx="300.75" cy="127.3" r="1.3"/></g><path d="M299.25 106.1l3 3M299.25 109.1l3 -3" stroke="#333" stroke-width=".55" fill="none"/>
<path d="M310.55 66.8V83M310.55 93.5V106.2M308.95 66.8h3.2M308.95 106.2h3.2" stroke="#595959" stroke-width=".6" fill="none"/><rect x="306.15" y="83" width="8.8" height="10.5" fill="#f6b381" stroke="#b07040" stroke-width=".7"/><path d="M306.15 88.5h8.8" stroke="#4d4d4d" stroke-width=".6"/><g fill="#ee9558" stroke="#505050" stroke-width=".4"><circle cx="310.55" cy="67" r="1.3"/><circle cx="310.55" cy="73.36" r="1.3"/><circle cx="310.55" cy="78.67" r="1.3"/><circle cx="310.55" cy="81.78" r="1.3"/><circle cx="310.55" cy="83.75" r="1.3"/><circle cx="310.55" cy="84.25" r="1.3"/><circle cx="310.55" cy="85.66" r="1.3"/><circle cx="310.55" cy="87.2" r="1.3"/><circle cx="310.55" cy="88.67" r="1.3"/><circle cx="310.55" cy="89.5" r="1.3"/><circle cx="310.55" cy="90.82" r="1.3"/><circle cx="310.55" cy="92.25" r="1.3"/><circle cx="310.55" cy="93.54" r="1.3"/><circle cx="310.55" cy="94.51" r="1.3"/><circle cx="310.55" cy="96.48" r="1.3"/><circle cx="310.55" cy="99.09" r="1.3"/><circle cx="310.55" cy="106" r="1.3"/></g><path d="M309.05 87l3 3M309.05 90l3 -3" stroke="#333" stroke-width=".55" fill="none"/>
<path d="M320.35 75.2V88.5M320.35 100.7V112M318.75 75.2h3.2M318.75 112h3.2" stroke="#595959" stroke-width=".6" fill="none"/><rect x="315.95" y="88.5" width="8.8" height="12.2" fill="#d2d2d2" stroke="#808080" stroke-width=".7"/><path d="M315.95 94.9h8.8" stroke="#4d4d4d" stroke-width=".6"/><g fill="#a8a8a8" stroke="#505050" stroke-width=".4"><circle cx="320.35" cy="75.4" r="1.3"/><circle cx="320.35" cy="82.41" r="1.3"/><circle cx="320.35" cy="85.93" r="1.3"/><circle cx="320.35" cy="87.44" r="1.3"/><circle cx="320.35" cy="88.63" r="1.3"/><circle cx="320.35" cy="90.08" r="1.3"/><circle cx="320.35" cy="92.36" r="1.3"/><circle cx="320.35" cy="93.09" r="1.3"/><circle cx="320.35" cy="94.98" r="1.3"/><circle cx="320.35" cy="95.92" r="1.3"/><circle cx="320.35" cy="97.65" r="1.3"/><circle cx="320.35" cy="99.43" r="1.3"/><circle cx="320.35" cy="100.01" r="1.3"/><circle cx="320.35" cy="101.94" r="1.3"/><circle cx="320.35" cy="103.7" r="1.3"/><circle cx="320.35" cy="107.47" r="1.3"/><circle cx="320.35" cy="111.8" r="1.3"/></g><path d="M318.85 93.1l3 3M318.85 96.1l3 -3" stroke="#333" stroke-width=".55" fill="none"/>
<path d="M330.15 73V88.1M330.15 99.7V113.8M328.55 73h3.2M328.55 113.8h3.2" stroke="#595959" stroke-width=".6" fill="none"/><rect x="325.75" y="88.1" width="8.8" height="11.6" fill="#9dc4e8" stroke="#5a86b4" stroke-width=".7"/><path d="M325.75 93.6h8.8" stroke="#4d4d4d" stroke-width=".6"/><g fill="#82b0e0" stroke="#505050" stroke-width=".4"><circle cx="330.15" cy="73.2" r="1.3"/><circle cx="330.15" cy="81.34" r="1.3"/><circle cx="330.15" cy="83.85" r="1.3"/><circle cx="330.15" cy="86.41" r="1.3"/><circle cx="330.15" cy="88.83" r="1.3"/><circle cx="330.15" cy="89.88" r="1.3"/><circle cx="330.15" cy="90.93" r="1.3"/><circle cx="330.15" cy="92.51" r="1.3"/><circle cx="330.15" cy="93.52" r="1.3"/><circle cx="330.15" cy="94.91" r="1.3"/><circle cx="330.15" cy="96.09" r="1.3"/><circle cx="330.15" cy="97.74" r="1.3"/><circle cx="330.15" cy="99.16" r="1.3"/><circle cx="330.15" cy="100.52" r="1.3"/><circle cx="330.15" cy="103.2" r="1.3"/><circle cx="330.15" cy="108.31" r="1.3"/><circle cx="330.15" cy="113.6" r="1.3"/></g><path d="M328.65 91.5l3 3M328.65 94.5l3 -3" stroke="#333" stroke-width=".55" fill="none"/>
<path d="M339.95 91V104.8M339.95 118.8V131.2M338.35 91h3.2M338.35 131.2h3.2" stroke="#595959" stroke-width=".6" fill="none"/><rect x="335.55" y="104.8" width="8.8" height="14" fill="#a8d48c" stroke="#679a48" stroke-width=".7"/><path d="M335.55 111.6h8.8" stroke="#4d4d4d" stroke-width=".6"/><g fill="#90c46e" stroke="#505050" stroke-width=".4"><circle cx="339.95" cy="91.2" r="1.3"/><circle cx="339.95" cy="97.03" r="1.3"/><circle cx="339.95" cy="100.87" r="1.3"/><circle cx="339.95" cy="103.62" r="1.3"/><circle cx="339.95" cy="105.76" r="1.3"/><circle cx="339.95" cy="106.9" r="1.3"/><circle cx="339.95" cy="108.24" r="1.3"/><circle cx="339.95" cy="109.92" r="1.3"/><circle cx="339.95" cy="111.35" r="1.3"/><circle cx="339.95" cy="112.76" r="1.3"/><circle cx="339.95" cy="114.52" r="1.3"/><circle cx="339.95" cy="117.08" r="1.3"/><circle cx="339.95" cy="118.12" r="1.3"/><circle cx="339.95" cy="120.33" r="1.3"/><circle cx="339.95" cy="121.6" r="1.3"/><circle cx="339.95" cy="124.69" r="1.3"/><circle cx="339.95" cy="131" r="1.3"/></g><path d="M338.45 109.8l3 3M338.45 112.8l3 -3" stroke="#333" stroke-width=".55" fill="none"/>
<path d="M349.75 56V67.9M349.75 80.2V93M348.15 56h3.2M348.15 93h3.2" stroke="#595959" stroke-width=".6" fill="none"/><rect x="345.35" y="67.9" width="8.8" height="12.3" fill="#f6b381" stroke="#b07040" stroke-width=".7"/><path d="M345.35 73.4h8.8" stroke="#4d4d4d" stroke-width=".6"/><g fill="#ee9558" stroke="#505050" stroke-width=".4"><circle cx="349.75" cy="56.2" r="1.3"/><circle cx="349.75" cy="62.37" r="1.3"/><circle cx="349.75" cy="64.62" r="1.3"/><circle cx="349.75" cy="66.38" r="1.3"/><circle cx="349.75" cy="68.46" r="1.3"/><circle cx="349.75" cy="69.43" r="1.3"/><circle cx="349.75" cy="71.15" r="1.3"/><circle cx="349.75" cy="72.15" r="1.3"/><circle cx="349.75" cy="73.13" r="1.3"/><circle cx="349.75" cy="74.53" r="1.3"/><circle cx="349.75" cy="77.09" r="1.3"/><circle cx="349.75" cy="78.1" r="1.3"/><circle cx="349.75" cy="79.93" r="1.3"/><circle cx="349.75" cy="80.71" r="1.3"/><circle cx="349.75" cy="84.36" r="1.3"/><circle cx="349.75" cy="86.83" r="1.3"/><circle cx="349.75" cy="92.8" r="1.3"/></g><path d="M348.25 72.5l3 3M348.25 75.5l3 -3" stroke="#333" stroke-width=".55" fill="none"/>
<path d="M359.55 58.7V70.6M359.55 83.1V95.4M357.95 58.7h3.2M357.95 95.4h3.2" stroke="#595959" stroke-width=".6" fill="none"/><rect x="355.15" y="70.6" width="8.8" height="12.5" fill="#d2d2d2" stroke="#808080" stroke-width=".7"/><path d="M355.15 76.5h8.8" stroke="#4d4d4d" stroke-width=".6"/><g fill="#a8a8a8" stroke="#505050" stroke-width=".4"><circle cx="359.55" cy="58.9" r="1.3"/><circle cx="359.55" cy="64.34" r="1.3"/><circle cx="359.55" cy="67.16" r="1.3"/><circle cx="359.55" cy="69.46" r="1.3"/><circle cx="359.55" cy="71.18" r="1.3"/><circle cx="359.55" cy="72.8" r="1.3"/><circle cx="359.55" cy="73.49" r="1.3"/><circle cx="359.55" cy="75.26" r="1.3"/><circle cx="359.55" cy="76.31" r="1.3"/><circle cx="359.55" cy="78.12" r="1.3"/><circle cx="359.55" cy="79.49" r="1.3"/><circle cx="359.55" cy="80.8" r="1.3"/><circle cx="359.55" cy="82.34" r="1.3"/><circle cx="359.55" cy="83.67" r="1.3"/><circle cx="359.55" cy="87.17" r="1.3"/><circle cx="359.55" cy="89.49" r="1.3"/><circle cx="359.55" cy="95.2" r="1.3"/></g><path d="M358.05 75l3 3M358.05 78l3 -3" stroke="#333" stroke-width=".55" fill="none"/>
<path d="M369.35 52.5V67.3M369.35 80.4V93M367.75 52.5h3.2M367.75 93h3.2" stroke="#595959" stroke-width=".6" fill="none"/><rect x="364.95" y="67.3" width="8.8" height="13.1" fill="#9dc4e8" stroke="#5a86b4" stroke-width=".7"/><path d="M364.95 73.4h8.8" stroke="#4d4d4d" stroke-width=".6"/><g fill="#82b0e0" stroke="#505050" stroke-width=".4"><circle cx="369.35" cy="52.7" r="1.3"/><circle cx="369.35" cy="59.45" r="1.3"/><circle cx="369.35" cy="62.51" r="1.3"/><circle cx="369.35" cy="65.7" r="1.3"/><circle cx="369.35" cy="67.29" r="1.3"/><circle cx="369.35" cy="68.94" r="1.3"/><circle cx="369.35" cy="70.12" r="1.3"/><circle cx="369.35" cy="71.7" r="1.3"/><circle cx="369.35" cy="73.16" r="1.3"/><circle cx="369.35" cy="75.13" r="1.3"/><circle cx="369.35" cy="77.14" r="1.3"/><circle cx="369.35" cy="78.63" r="1.3"/><circle cx="369.35" cy="79.89" r="1.3"/><circle cx="369.35" cy="81.22" r="1.3"/><circle cx="369.35" cy="83.78" r="1.3"/><circle cx="369.35" cy="86.65" r="1.3"/><circle cx="369.35" cy="92.8" r="1.3"/></g><path d="M367.85 71.3l3 3M367.85 74.3l3 -3" stroke="#333" stroke-width=".55" fill="none"/>
<path d="M379.15 69.7V87.5M379.15 101V118.4M377.55 69.7h3.2M377.55 118.4h3.2" stroke="#595959" stroke-width=".6" fill="none"/><rect x="374.75" y="87.5" width="8.8" height="13.5" fill="#a8d48c" stroke="#679a48" stroke-width=".7"/><path d="M374.75 93.6h8.8" stroke="#4d4d4d" stroke-width=".6"/><g fill="#90c46e" stroke="#505050" stroke-width=".4"><circle cx="379.15" cy="69.9" r="1.3"/><circle cx="379.15" cy="78.5" r="1.3"/><circle cx="379.15" cy="82.4" r="1.3"/><circle cx="379.15" cy="86.51" r="1.3"/><circle cx="379.15" cy="87.89" r="1.3"/><circle cx="379.15" cy="89.59" r="1.3"/><circle cx="379.15" cy="91.08" r="1.3"/><circle cx="379.15" cy="91.76" r="1.3"/><circle cx="379.15" cy="94.08" r="1.3"/><circle cx="379.15" cy="95.2" r="1.3"/><circle cx="379.15" cy="97.26" r="1.3"/><circle cx="379.15" cy="98.74" r="1.3"/><circle cx="379.15" cy="100.34" r="1.3"/><circle cx="379.15" cy="102.9" r="1.3"/><circle cx="379.15" cy="106.95" r="1.3"/><circle cx="379.15" cy="108.8" r="1.3"/><circle cx="379.15" cy="118.2" r="1.3"/></g><path d="M377.65 92.4l3 3M377.65 95.4l3 -3" stroke="#333" stroke-width=".55" fill="none"/>
<path d="M388.95 70.6V83.1M388.95 94.5V107.4M387.35 70.6h3.2M387.35 107.4h3.2" stroke="#595959" stroke-width=".6" fill="none"/><rect x="384.55" y="83.1" width="8.8" height="11.4" fill="#f6b381" stroke="#b07040" stroke-width=".7"/><path d="M384.55 88.4h8.8" stroke="#4d4d4d" stroke-width=".6"/><g fill="#ee9558" stroke="#505050" stroke-width=".4"><circle cx="388.95" cy="70.8" r="1.3"/><circle cx="388.95" cy="76.57" r="1.3"/><circle cx="388.95" cy="78.92" r="1.3"/><circle cx="388.95" cy="82.67" r="1.3"/><circle cx="388.95" cy="83.79" r="1.3"/><circle cx="388.95" cy="84.68" r="1.3"/><circle cx="388.95" cy="85.88" r="1.3"/><circle cx="388.95" cy="87.11" r="1.3"/><circle cx="388.95" cy="88.68" r="1.3"/><circle cx="388.95" cy="89.56" r="1.3"/><circle cx="388.95" cy="90.92" r="1.3"/><circle cx="388.95" cy="93.18" r="1.3"/><circle cx="388.95" cy="93.75" r="1.3"/><circle cx="388.95" cy="95.92" r="1.3"/><circle cx="388.95" cy="98.33" r="1.3"/><circle cx="388.95" cy="102.12" r="1.3"/><circle cx="388.95" cy="107.2" r="1.3"/><circle cx="388.95" cy="63.3" r="1.3"/></g><path d="M387.45 86.3l3 3M387.45 89.3l3 -3" stroke="#333" stroke-width=".55" fill="none"/>
<path d="M398.75 73.4V86.3M398.75 97.7V109.2M397.15 73.4h3.2M397.15 109.2h3.2" stroke="#595959" stroke-width=".6" fill="none"/><rect x="394.35" y="86.3" width="8.8" height="11.4" fill="#d2d2d2" stroke="#808080" stroke-width=".7"/><path d="M394.35 91.8h8.8" stroke="#4d4d4d" stroke-width=".6"/><g fill="#a8a8a8" stroke="#505050" stroke-width=".4"><circle cx="398.75" cy="73.6" r="1.3"/><circle cx="398.75" cy="78.37" r="1.3"/><circle cx="398.75" cy="83.45" r="1.3"/><circle cx="398.75" cy="84.96" r="1.3"/><circle cx="398.75" cy="87" r="1.3"/><circle cx="398.75" cy="88.05" r="1.3"/><circle cx="398.75" cy="89.03" r="1.3"/><circle cx="398.75" cy="90.17" r="1.3"/><circle cx="398.75" cy="91.58" r="1.3"/><circle cx="398.75" cy="93.32" r="1.3"/><circle cx="398.75" cy="94.77" r="1.3"/><circle cx="398.75" cy="95.59" r="1.3"/><circle cx="398.75" cy="96.94" r="1.3"/><circle cx="398.75" cy="98.58" r="1.3"/><circle cx="398.75" cy="100.89" r="1.3"/><circle cx="398.75" cy="103.43" r="1.3"/><circle cx="398.75" cy="109" r="1.3"/><circle cx="398.75" cy="67" r="1.3"/></g><path d="M397.25 90.9l3 3M397.25 93.9l3 -3" stroke="#333" stroke-width=".55" fill="none"/>
<path d="M408.55 70.6V83.1M408.55 94.2V107.4M406.95 70.6h3.2M406.95 107.4h3.2" stroke="#595959" stroke-width=".6" fill="none"/><rect x="404.15" y="83.1" width="8.8" height="11.1" fill="#9dc4e8" stroke="#5a86b4" stroke-width=".7"/><path d="M404.15 89h8.8" stroke="#4d4d4d" stroke-width=".6"/><g fill="#82b0e0" stroke="#505050" stroke-width=".4"><circle cx="408.55" cy="70.8" r="1.3"/><circle cx="408.55" cy="76.69" r="1.3"/><circle cx="408.55" cy="80.73" r="1.3"/><circle cx="408.55" cy="81.87" r="1.3"/><circle cx="408.55" cy="83.27" r="1.3"/><circle cx="408.55" cy="85.17" r="1.3"/><circle cx="408.55" cy="85.97" r="1.3"/><circle cx="408.55" cy="87.64" r="1.3"/><circle cx="408.55" cy="89.04" r="1.3"/><circle cx="408.55" cy="89.82" r="1.3"/><circle cx="408.55" cy="91.37" r="1.3"/><circle cx="408.55" cy="92.8" r="1.3"/><circle cx="408.55" cy="93.51" r="1.3"/><circle cx="408.55" cy="94.79" r="1.3"/><circle cx="408.55" cy="98.52" r="1.3"/><circle cx="408.55" cy="101.46" r="1.3"/><circle cx="408.55" cy="107.2" r="1.3"/><circle cx="408.55" cy="63.8" r="1.3"/></g><path d="M407.05 87.2l3 3M407.05 90.2l3 -3" stroke="#333" stroke-width=".55" fill="none"/>
<path d="M418.35 67V87.2M418.35 98.8V111.6M416.75 67h3.2M416.75 111.6h3.2" stroke="#595959" stroke-width=".6" fill="none"/><rect x="413.95" y="87.2" width="8.8" height="11.6" fill="#a8d48c" stroke="#679a48" stroke-width=".7"/><path d="M413.95 93h8.8" stroke="#4d4d4d" stroke-width=".6"/><g fill="#90c46e" stroke="#505050" stroke-width=".4"><circle cx="418.35" cy="67.2" r="1.3"/><circle cx="418.35" cy="78.35" r="1.3"/><circle cx="418.35" cy="80.96" r="1.3"/><circle cx="418.35" cy="84.63" r="1.3"/><circle cx="418.35" cy="87.39" r="1.3"/><circle cx="418.35" cy="88.83" r="1.3"/><circle cx="418.35" cy="90.44" r="1.3"/><circle cx="418.35" cy="91.35" r="1.3"/><circle cx="418.35" cy="93.28" r="1.3"/><circle cx="418.35" cy="94.59" r="1.3"/><circle cx="418.35" cy="95.73" r="1.3"/><circle cx="418.35" cy="96.81" r="1.3"/><circle cx="418.35" cy="98.83" r="1.3"/><circle cx="418.35" cy="99.51" r="1.3"/><circle cx="418.35" cy="102.85" r="1.3"/><circle cx="418.35" cy="104.79" r="1.3"/><circle cx="418.35" cy="111.4" r="1.3"/></g><path d="M416.85 91.5l3 3M416.85 94.5l3 -3" stroke="#333" stroke-width=".55" fill="none"/>
<path d="M428.15 88.2V105M428.15 122.4V135M426.55 88.2h3.2M426.55 135h3.2" stroke="#595959" stroke-width=".6" fill="none"/><rect x="423.75" y="105" width="8.8" height="17.4" fill="#f6b381" stroke="#b07040" stroke-width=".7"/><path d="M423.75 115.2h8.8" stroke="#4d4d4d" stroke-width=".6"/><g fill="#ee9558" stroke="#505050" stroke-width=".4"><circle cx="428.15" cy="88.4" r="1.3"/><circle cx="428.15" cy="96.67" r="1.3"/><circle cx="428.15" cy="100.85" r="1.3"/><circle cx="428.15" cy="104.38" r="1.3"/><circle cx="428.15" cy="105.57" r="1.3"/><circle cx="428.15" cy="108.69" r="1.3"/><circle cx="428.15" cy="109.65" r="1.3"/><circle cx="428.15" cy="112.96" r="1.3"/><circle cx="428.15" cy="115.7" r="1.3"/><circle cx="428.15" cy="116.37" r="1.3"/><circle cx="428.15" cy="118.02" r="1.3"/><circle cx="428.15" cy="120.4" r="1.3"/><circle cx="428.15" cy="121.88" r="1.3"/><circle cx="428.15" cy="123.62" r="1.3"/><circle cx="428.15" cy="125.12" r="1.3"/><circle cx="428.15" cy="128.83" r="1.3"/><circle cx="428.15" cy="134.8" r="1.3"/></g><path d="M426.65 113.7l3 3M426.65 116.7l3 -3" stroke="#333" stroke-width=".55" fill="none"/>
<path d="M437.95 92.1V108.3M437.95 128V138.3M436.35 92.1h3.2M436.35 138.3h3.2" stroke="#595959" stroke-width=".6" fill="none"/><rect x="433.55" y="108.3" width="8.8" height="19.7" fill="#d2d2d2" stroke="#808080" stroke-width=".7"/><path d="M433.55 118.5h8.8" stroke="#4d4d4d" stroke-width=".6"/><g fill="#a8a8a8" stroke="#505050" stroke-width=".4"><circle cx="437.95" cy="92.3" r="1.3"/><circle cx="437.95" cy="101.42" r="1.3"/><circle cx="437.95" cy="105.08" r="1.3"/><circle cx="437.95" cy="106.8" r="1.3"/><circle cx="437.95" cy="108.37" r="1.3"/><circle cx="437.95" cy="112.03" r="1.3"/><circle cx="437.95" cy="114.11" r="1.3"/><circle cx="437.95" cy="115.31" r="1.3"/><circle cx="437.95" cy="118.76" r="1.3"/><circle cx="437.95" cy="120.55" r="1.3"/><circle cx="437.95" cy="122.77" r="1.3"/><circle cx="437.95" cy="124.94" r="1.3"/><circle cx="437.95" cy="126.92" r="1.3"/><circle cx="437.95" cy="128.3" r="1.3"/><circle cx="437.95" cy="130.37" r="1.3"/><circle cx="437.95" cy="133.06" r="1.3"/><circle cx="437.95" cy="138.1" r="1.3"/></g><path d="M436.45 116.4l3 3M436.45 119.4l3 -3" stroke="#333" stroke-width=".55" fill="none"/>
<path d="M447.75 86.5V103.4M447.75 122.8V135.6M446.15 86.5h3.2M446.15 135.6h3.2" stroke="#595959" stroke-width=".6" fill="none"/><rect x="443.35" y="103.4" width="8.8" height="19.4" fill="#9dc4e8" stroke="#5a86b4" stroke-width=".7"/><path d="M443.35 112.9h8.8" stroke="#4d4d4d" stroke-width=".6"/><g fill="#82b0e0" stroke="#505050" stroke-width=".4"><circle cx="447.75" cy="86.7" r="1.3"/><circle cx="447.75" cy="95.46" r="1.3"/><circle cx="447.75" cy="98.61" r="1.3"/><circle cx="447.75" cy="102.59" r="1.3"/><circle cx="447.75" cy="103.66" r="1.3"/><circle cx="447.75" cy="106.67" r="1.3"/><circle cx="447.75" cy="107.78" r="1.3"/><circle cx="447.75" cy="110.99" r="1.3"/><circle cx="447.75" cy="112.42" r="1.3"/><circle cx="447.75" cy="115.3" r="1.3"/><circle cx="447.75" cy="117.47" r="1.3"/><circle cx="447.75" cy="119.6" r="1.3"/><circle cx="447.75" cy="122.6" r="1.3"/><circle cx="447.75" cy="123.72" r="1.3"/><circle cx="447.75" cy="126.45" r="1.3"/><circle cx="447.75" cy="128.83" r="1.3"/><circle cx="447.75" cy="135.4" r="1.3"/></g><path d="M446.25 111.7l3 3M446.25 114.7l3 -3" stroke="#333" stroke-width=".55" fill="none"/>
<path d="M457.55 92.5V109.4M457.55 128V142M455.95 92.5h3.2M455.95 142h3.2" stroke="#595959" stroke-width=".6" fill="none"/><rect x="453.15" y="109.4" width="8.8" height="18.6" fill="#a8d48c" stroke="#679a48" stroke-width=".7"/><path d="M453.15 119.4h8.8" stroke="#4d4d4d" stroke-width=".6"/><g fill="#90c46e" stroke="#505050" stroke-width=".4"><circle cx="457.55" cy="92.7" r="1.3"/><circle cx="457.55" cy="99" r="1.3"/><circle cx="457.55" cy="103.71" r="1.3"/><circle cx="457.55" cy="108.81" r="1.3"/><circle cx="457.55" cy="109.59" r="1.3"/><circle cx="457.55" cy="112.75" r="1.3"/><circle cx="457.55" cy="115.35" r="1.3"/><circle cx="457.55" cy="116.78" r="1.3"/><circle cx="457.55" cy="119.02" r="1.3"/><circle cx="457.55" cy="122.07" r="1.3"/><circle cx="457.55" cy="123.61" r="1.3"/><circle cx="457.55" cy="125.13" r="1.3"/><circle cx="457.55" cy="127.8" r="1.3"/><circle cx="457.55" cy="128.78" r="1.3"/><circle cx="457.55" cy="131.21" r="1.3"/><circle cx="457.55" cy="133.95" r="1.3"/><circle cx="457.55" cy="141.8" r="1.3"/></g><path d="M456.05 117.3l3 3M456.05 120.3l3 -3" stroke="#333" stroke-width=".55" fill="none"/>
<path d="M467.35 83.5V103.8M467.35 124.3V137.4M465.75 83.5h3.2M465.75 137.4h3.2" stroke="#595959" stroke-width=".6" fill="none"/><rect x="462.95" y="103.8" width="8.8" height="20.5" fill="#f6b381" stroke="#b07040" stroke-width=".7"/><path d="M462.95 115.7h8.8" stroke="#4d4d4d" stroke-width=".6"/><g fill="#ee9558" stroke="#505050" stroke-width=".4"><circle cx="467.35" cy="83.7" r="1.3"/><circle cx="467.35" cy="92.14" r="1.3"/><circle cx="467.35" cy="98.36" r="1.3"/><circle cx="467.35" cy="103.15" r="1.3"/><circle cx="467.35" cy="105.39" r="1.3"/><circle cx="467.35" cy="107.08" r="1.3"/><circle cx="467.35" cy="109.61" r="1.3"/><circle cx="467.35" cy="112.76" r="1.3"/><circle cx="467.35" cy="115.69" r="1.3"/><circle cx="467.35" cy="118.33" r="1.3"/><circle cx="467.35" cy="119.3" r="1.3"/><circle cx="467.35" cy="122.2" r="1.3"/><circle cx="467.35" cy="124.13" r="1.3"/><circle cx="467.35" cy="125.74" r="1.3"/><circle cx="467.35" cy="128.34" r="1.3"/><circle cx="467.35" cy="131.4" r="1.3"/><circle cx="467.35" cy="137.2" r="1.3"/></g><path d="M465.85 114.2l3 3M465.85 117.2l3 -3" stroke="#333" stroke-width=".55" fill="none"/>
<path d="M477.15 104.8V125.2M477.15 141.6V153.4M475.55 104.8h3.2M475.55 153.4h3.2" stroke="#595959" stroke-width=".6" fill="none"/><rect x="472.75" y="125.2" width="8.8" height="16.4" fill="#d2d2d2" stroke="#808080" stroke-width=".7"/><path d="M472.75 134.3h8.8" stroke="#4d4d4d" stroke-width=".6"/><g fill="#a8a8a8" stroke="#505050" stroke-width=".4"><circle cx="477.15" cy="105" r="1.3"/><circle cx="477.15" cy="115.71" r="1.3"/><circle cx="477.15" cy="120.12" r="1.3"/><circle cx="477.15" cy="123.71" r="1.3"/><circle cx="477.15" cy="125.57" r="1.3"/><circle cx="477.15" cy="127.37" r="1.3"/><circle cx="477.15" cy="129.88" r="1.3"/><circle cx="477.15" cy="132.38" r="1.3"/><circle cx="477.15" cy="134.27" r="1.3"/><circle cx="477.15" cy="136.07" r="1.3"/><circle cx="477.15" cy="137.33" r="1.3"/><circle cx="477.15" cy="139.36" r="1.3"/><circle cx="477.15" cy="140.7" r="1.3"/><circle cx="477.15" cy="142.01" r="1.3"/><circle cx="477.15" cy="144.95" r="1.3"/><circle cx="477.15" cy="147.07" r="1.3"/><circle cx="477.15" cy="153.2" r="1.3"/></g><path d="M475.65 133.1l3 3M475.65 136.1l3 -3" stroke="#333" stroke-width=".55" fill="none"/>
<path d="M486.95 103V117.2M486.95 133.2V151.2M485.35 103h3.2M485.35 151.2h3.2" stroke="#595959" stroke-width=".6" fill="none"/><rect x="482.55" y="117.2" width="8.8" height="16" fill="#9dc4e8" stroke="#5a86b4" stroke-width=".7"/><path d="M482.55 126.4h8.8" stroke="#4d4d4d" stroke-width=".6"/><g fill="#82b0e0" stroke="#505050" stroke-width=".4"><circle cx="486.95" cy="103.2" r="1.3"/><circle cx="486.95" cy="108.75" r="1.3"/><circle cx="486.95" cy="113.36" r="1.3"/><circle cx="486.95" cy="116.67" r="1.3"/><circle cx="486.95" cy="117.34" r="1.3"/><circle cx="486.95" cy="119.96" r="1.3"/><circle cx="486.95" cy="122.49" r="1.3"/><circle cx="486.95" cy="124.63" r="1.3"/><circle cx="486.95" cy="126.71" r="1.3"/><circle cx="486.95" cy="127.77" r="1.3"/><circle cx="486.95" cy="129.35" r="1.3"/><circle cx="486.95" cy="130.94" r="1.3"/><circle cx="486.95" cy="132.52" r="1.3"/><circle cx="486.95" cy="134.11" r="1.3"/><circle cx="486.95" cy="137.78" r="1.3"/><circle cx="486.95" cy="141.47" r="1.3"/><circle cx="486.95" cy="151" r="1.3"/></g><path d="M485.45 124.9l3 3M485.45 127.9l3 -3" stroke="#333" stroke-width=".55" fill="none"/>
<path d="M496.75 103.4V118.1M496.75 135V153M495.15 103.4h3.2M495.15 153h3.2" stroke="#595959" stroke-width=".6" fill="none"/><rect x="492.35" y="118.1" width="8.8" height="16.9" fill="#a8d48c" stroke="#679a48" stroke-width=".7"/><path d="M492.35 128.2h8.8" stroke="#4d4d4d" stroke-width=".6"/><g fill="#90c46e" stroke="#505050" stroke-width=".4"><circle cx="496.75" cy="103.6" r="1.3"/><circle cx="496.75" cy="110.68" r="1.3"/><circle cx="496.75" cy="113.8" r="1.3"/><circle cx="496.75" cy="116.85" r="1.3"/><circle cx="496.75" cy="119.51" r="1.3"/><circle cx="496.75" cy="121.08" r="1.3"/><circle cx="496.75" cy="123" r="1.3"/><circle cx="496.75" cy="126.34" r="1.3"/><circle cx="496.75" cy="128.37" r="1.3"/><circle cx="496.75" cy="130.35" r="1.3"/><circle cx="496.75" cy="130.95" r="1.3"/><circle cx="496.75" cy="132.97" r="1.3"/><circle cx="496.75" cy="134.96" r="1.3"/><circle cx="496.75" cy="137.02" r="1.3"/><circle cx="496.75" cy="140.99" r="1.3"/><circle cx="496.75" cy="142.77" r="1.3"/><circle cx="496.75" cy="152.8" r="1.3"/></g><path d="M495.25 126.1l3 3M495.25 129.1l3 -3" stroke="#333" stroke-width=".55" fill="none"/>
<path d="M506.55 32V40.8M506.55 53.1V59.5M504.95 32h3.2M504.95 59.5h3.2" stroke="#595959" stroke-width=".6" fill="none"/><rect x="502.15" y="40.8" width="8.8" height="12.3" fill="#f6b381" stroke="#b07040" stroke-width=".7"/><path d="M502.15 47.6h8.8" stroke="#4d4d4d" stroke-width=".6"/><g fill="#ee9558" stroke="#505050" stroke-width=".4"><circle cx="506.55" cy="32.2" r="1.3"/><circle cx="506.55" cy="36.39" r="1.3"/><circle cx="506.55" cy="38.92" r="1.3"/><circle cx="506.55" cy="39.85" r="1.3"/><circle cx="506.55" cy="40.79" r="1.3"/><circle cx="506.55" cy="42.81" r="1.3"/><circle cx="506.55" cy="44.04" r="1.3"/><circle cx="506.55" cy="46.12" r="1.3"/><circle cx="506.55" cy="47.85" r="1.3"/><circle cx="506.55" cy="49.04" r="1.3"/><circle cx="506.55" cy="49.74" r="1.3"/><circle cx="506.55" cy="51.61" r="1.3"/><circle cx="506.55" cy="52.97" r="1.3"/><circle cx="506.55" cy="53.48" r="1.3"/><circle cx="506.55" cy="54.34" r="1.3"/><circle cx="506.55" cy="56.23" r="1.3"/><circle cx="506.55" cy="59.3" r="1.3"/><circle cx="506.55" cy="63.1" r="1.3"/><circle cx="506.55" cy="67.4" r="1.3"/><circle cx="506.55" cy="72.1" r="1.3"/><circle cx="506.55" cy="77.1" r="1.3"/></g><path d="M505.05 46.1l3 3M505.05 49.1l3 -3" stroke="#333" stroke-width=".55" fill="none"/>
<path d="M516.35 46.7V53.5M516.35 68.2V84.3M514.75 46.7h3.2M514.75 84.3h3.2" stroke="#595959" stroke-width=".6" fill="none"/><rect x="511.95" y="53.5" width="8.8" height="14.7" fill="#d2d2d2" stroke="#808080" stroke-width=".7"/><path d="M511.95 61.9h8.8" stroke="#4d4d4d" stroke-width=".6"/><g fill="#a8a8a8" stroke="#505050" stroke-width=".4"><circle cx="516.35" cy="46.9" r="1.3"/><circle cx="516.35" cy="50.27" r="1.3"/><circle cx="516.35" cy="52.13" r="1.3"/><circle cx="516.35" cy="53.2" r="1.3"/><circle cx="516.35" cy="54.44" r="1.3"/><circle cx="516.35" cy="55.84" r="1.3"/><circle cx="516.35" cy="57.77" r="1.3"/><circle cx="516.35" cy="60.09" r="1.3"/><circle cx="516.35" cy="61.32" r="1.3"/><circle cx="516.35" cy="62.9" r="1.3"/><circle cx="516.35" cy="64.86" r="1.3"/><circle cx="516.35" cy="66.33" r="1.3"/><circle cx="516.35" cy="67.73" r="1.3"/><circle cx="516.35" cy="69.92" r="1.3"/><circle cx="516.35" cy="72.88" r="1.3"/><circle cx="516.35" cy="75.5" r="1.3"/><circle cx="516.35" cy="84.1" r="1.3"/><circle cx="516.35" cy="90.6" r="1.3"/></g><path d="M514.85 60.1l3 3M514.85 63.1l3 -3" stroke="#333" stroke-width=".55" fill="none"/>
<path d="M526.15 38.9V47.6M526.15 59.5V65.6M524.55 38.9h3.2M524.55 65.6h3.2" stroke="#595959" stroke-width=".6" fill="none"/><rect x="521.75" y="47.6" width="8.8" height="11.9" fill="#9dc4e8" stroke="#5a86b4" stroke-width=".7"/><path d="M521.75 54.6h8.8" stroke="#4d4d4d" stroke-width=".6"/><g fill="#82b0e0" stroke="#505050" stroke-width=".4"><circle cx="526.15" cy="39.1" r="1.3"/><circle cx="526.15" cy="42.67" r="1.3"/><circle cx="526.15" cy="45.94" r="1.3"/><circle cx="526.15" cy="47.1" r="1.3"/><circle cx="526.15" cy="47.92" r="1.3"/><circle cx="526.15" cy="49.14" r="1.3"/><circle cx="526.15" cy="51.59" r="1.3"/><circle cx="526.15" cy="53.4" r="1.3"/><circle cx="526.15" cy="54.5" r="1.3"/><circle cx="526.15" cy="55.36" r="1.3"/><circle cx="526.15" cy="57.12" r="1.3"/><circle cx="526.15" cy="58.3" r="1.3"/><circle cx="526.15" cy="59.33" r="1.3"/><circle cx="526.15" cy="59.88" r="1.3"/><circle cx="526.15" cy="61.02" r="1.3"/><circle cx="526.15" cy="63.23" r="1.3"/><circle cx="526.15" cy="65.4" r="1.3"/><circle cx="526.15" cy="70" r="1.3"/><circle cx="526.15" cy="74.8" r="1.3"/><circle cx="526.15" cy="79.8" r="1.3"/><circle cx="526.15" cy="84.8" r="1.3"/></g><path d="M524.65 52.8l3 3M524.65 55.8l3 -3" stroke="#333" stroke-width=".55" fill="none"/>
<path d="M535.95 62.8V72M535.95 85.3V99.7M534.35 62.8h3.2M534.35 99.7h3.2" stroke="#595959" stroke-width=".6" fill="none"/><rect x="531.55" y="72" width="8.8" height="13.3" fill="#a8d48c" stroke="#679a48" stroke-width=".7"/><path d="M531.55 79.2h8.8" stroke="#4d4d4d" stroke-width=".6"/><g fill="#90c46e" stroke="#505050" stroke-width=".4"><circle cx="535.95" cy="63" r="1.3"/><circle cx="535.95" cy="67.79" r="1.3"/><circle cx="535.95" cy="69.43" r="1.3"/><circle cx="535.95" cy="71.65" r="1.3"/><circle cx="535.95" cy="72.38" r="1.3"/><circle cx="535.95" cy="73.72" r="1.3"/><circle cx="535.95" cy="75.24" r="1.3"/><circle cx="535.95" cy="77.57" r="1.3"/><circle cx="535.95" cy="79.34" r="1.3"/><circle cx="535.95" cy="81.05" r="1.3"/><circle cx="535.95" cy="81.66" r="1.3"/><circle cx="535.95" cy="83.63" r="1.3"/><circle cx="535.95" cy="84.81" r="1.3"/><circle cx="535.95" cy="86.37" r="1.3"/><circle cx="535.95" cy="88.33" r="1.3"/><circle cx="535.95" cy="92.18" r="1.3"/><circle cx="535.95" cy="99.5" r="1.3"/><circle cx="535.95" cy="106.8" r="1.3"/><circle cx="535.95" cy="111.5" r="1.3"/></g><path d="M534.45 77.1l3 3M534.45 80.1l3 -3" stroke="#333" stroke-width=".55" fill="none"/>
<path d="M36.15 258.9V265.3M36.15 273.6V281M34.55 258.9h3.2M34.55 281h3.2" stroke="#595959" stroke-width=".6" fill="none"/><rect x="31.75" y="265.3" width="8.8" height="8.3" fill="#f6b381" stroke="#b07040" stroke-width=".7"/><path d="M31.75 269h8.8" stroke="#4d4d4d" stroke-width=".6"/><g fill="#ee9558" stroke="#505050" stroke-width=".4"><circle cx="36.15" cy="259.1" r="1.3"/><circle cx="36.15" cy="261.96" r="1.3"/><circle cx="36.15" cy="263.91" r="1.3"/><circle cx="36.15" cy="265.1" r="1.3"/><circle cx="36.15" cy="265.33" r="1.3"/><circle cx="36.15" cy="266.16" r="1.3"/><circle cx="36.15" cy="267.53" r="1.3"/><circle cx="36.15" cy="268.42" r="1.3"/><circle cx="36.15" cy="268.99" r="1.3"/><circle cx="36.15" cy="269.74" r="1.3"/><circle cx="36.15" cy="271.49" r="1.3"/><circle cx="36.15" cy="272.16" r="1.3"/><circle cx="36.15" cy="273.61" r="1.3"/><circle cx="36.15" cy="274.24" r="1.3"/><circle cx="36.15" cy="275.95" r="1.3"/><circle cx="36.15" cy="276.96" r="1.3"/><circle cx="36.15" cy="280.8" r="1.3"/></g><path d="M34.65 267.2l3 3M34.65 270.2l3 -3" stroke="#333" stroke-width=".55" fill="none"/>
<path d="M45.95 264.4V271.8M45.95 281V291.1M44.35 264.4h3.2M44.35 291.1h3.2" stroke="#595959" stroke-width=".6" fill="none"/><rect x="41.55" y="271.8" width="8.8" height="9.2" fill="#d2d2d2" stroke="#808080" stroke-width=".7"/><path d="M41.55 275.8h8.8" stroke="#4d4d4d" stroke-width=".6"/><g fill="#a8a8a8" stroke="#505050" stroke-width=".4"><circle cx="45.95" cy="264.6" r="1.3"/><circle cx="45.95" cy="268.12" r="1.3"/><circle cx="45.95" cy="269.48" r="1.3"/><circle cx="45.95" cy="271.23" r="1.3"/><circle cx="45.95" cy="272.08" r="1.3"/><circle cx="45.95" cy="272.67" r="1.3"/><circle cx="45.95" cy="274.21" r="1.3"/><circle cx="45.95" cy="274.63" r="1.3"/><circle cx="45.95" cy="275.71" r="1.3"/><circle cx="45.95" cy="276.72" r="1.3"/><circle cx="45.95" cy="278.65" r="1.3"/><circle cx="45.95" cy="279.74" r="1.3"/><circle cx="45.95" cy="280.43" r="1.3"/><circle cx="45.95" cy="282.19" r="1.3"/><circle cx="45.95" cy="284.24" r="1.3"/><circle cx="45.95" cy="286.61" r="1.3"/><circle cx="45.95" cy="290.9" r="1.3"/></g><path d="M44.45 274.3l3 3M44.45 277.3l3 -3" stroke="#333" stroke-width=".55" fill="none"/>
<path d="M55.75 270.8V278.2M55.75 286.8V298.4M54.15 270.8h3.2M54.15 298.4h3.2" stroke="#595959" stroke-width=".6" fill="none"/><rect x="51.35" y="278.2" width="8.8" height="8.6" fill="#9dc4e8" stroke="#5a86b4" stroke-width=".7"/><path d="M51.35 282.4h8.8" stroke="#4d4d4d" stroke-width=".6"/><g fill="#82b0e0" stroke="#505050" stroke-width=".4"><circle cx="55.75" cy="271" r="1.3"/><circle cx="55.75" cy="274.49" r="1.3"/><circle cx="55.75" cy="276.3" r="1.3"/><circle cx="55.75" cy="277.75" r="1.3"/><circle cx="55.75" cy="278.31" r="1.3"/><circle cx="55.75" cy="279.38" r="1.3"/><circle cx="55.75" cy="280.48" r="1.3"/><circle cx="55.75" cy="281.36" r="1.3"/><circle cx="55.75" cy="282.52" r="1.3"/><circle cx="55.75" cy="283.4" r="1.3"/><circle cx="55.75" cy="284.43" r="1.3"/><circle cx="55.75" cy="285.16" r="1.3"/><circle cx="55.75" cy="286.63" r="1.3"/><circle cx="55.75" cy="287.65" r="1.3"/><circle cx="55.75" cy="289.39" r="1.3"/><circle cx="55.75" cy="293.46" r="1.3"/><circle cx="55.75" cy="298.2" r="1.3"/></g><path d="M54.25 281.2l3 3M54.25 284.2l3 -3" stroke="#333" stroke-width=".55" fill="none"/>
<path d="M65.55 278.8V286.5M65.55 295.7V306.7M63.95 278.8h3.2M63.95 306.7h3.2" stroke="#595959" stroke-width=".6" fill="none"/><rect x="61.15" y="286.5" width="8.8" height="9.2" fill="#a8d48c" stroke="#679a48" stroke-width=".7"/><path d="M61.15 291.1h8.8" stroke="#4d4d4d" stroke-width=".6"/><g fill="#90c46e" stroke="#505050" stroke-width=".4"><circle cx="65.55" cy="279" r="1.3"/><circle cx="65.55" cy="282.96" r="1.3"/><circle cx="65.55" cy="284.34" r="1.3"/><circle cx="65.55" cy="285.55" r="1.3"/><circle cx="65.55" cy="286.66" r="1.3"/><circle cx="65.55" cy="287.75" r="1.3"/><circle cx="65.55" cy="289.16" r="1.3"/><circle cx="65.55" cy="290.02" r="1.3"/><circle cx="65.55" cy="291.22" r="1.3"/><circle cx="65.55" cy="291.83" r="1.3"/><circle cx="65.55" cy="292.98" r="1.3"/><circle cx="65.55" cy="294.67" r="1.3"/><circle cx="65.55" cy="295.29" r="1.3"/><circle cx="65.55" cy="296.78" r="1.3"/><circle cx="65.55" cy="297.91" r="1.3"/><circle cx="65.55" cy="301.99" r="1.3"/><circle cx="65.55" cy="306.5" r="1.3"/></g><path d="M64.05 289.3l3 3M64.05 292.3l3 -3" stroke="#333" stroke-width=".55" fill="none"/>
<path d="M75.35 240.1V262.2M75.35 279.1V297.5M73.75 240.1h3.2M73.75 297.5h3.2" stroke="#595959" stroke-width=".6" fill="none"/><rect x="70.95" y="262.2" width="8.8" height="16.9" fill="#f6b381" stroke="#b07040" stroke-width=".7"/><path d="M70.95 271.8h8.8" stroke="#4d4d4d" stroke-width=".6"/><g fill="#ee9558" stroke="#505050" stroke-width=".4"><circle cx="75.35" cy="240.3" r="1.3"/><circle cx="75.35" cy="248.74" r="1.3"/><circle cx="75.35" cy="256.76" r="1.3"/><circle cx="75.35" cy="260.98" r="1.3"/><circle cx="75.35" cy="262.19" r="1.3"/><circle cx="75.35" cy="264.44" r="1.3"/><circle cx="75.35" cy="267.89" r="1.3"/><circle cx="75.35" cy="269.21" r="1.3"/><circle cx="75.35" cy="272.17" r="1.3"/><circle cx="75.35" cy="273.87" r="1.3"/><circle cx="75.35" cy="275.46" r="1.3"/><circle cx="75.35" cy="277.22" r="1.3"/><circle cx="75.35" cy="278.34" r="1.3"/><circle cx="75.35" cy="281.15" r="1.3"/><circle cx="75.35" cy="284.29" r="1.3"/><circle cx="75.35" cy="287.79" r="1.3"/><circle cx="75.35" cy="297.3" r="1.3"/></g><path d="M73.85 270.9l3 3M73.85 273.9l3 -3" stroke="#333" stroke-width=".55" fill="none"/>
<path d="M85.15 266.8V283.2M85.15 299.3V317M83.55 266.8h3.2M83.55 317h3.2" stroke="#595959" stroke-width=".6" fill="none"/><rect x="80.75" y="283.2" width="8.8" height="16.1" fill="#d2d2d2" stroke="#808080" stroke-width=".7"/><path d="M80.75 292.4h8.8" stroke="#4d4d4d" stroke-width=".6"/><g fill="#a8a8a8" stroke="#505050" stroke-width=".4"><circle cx="85.15" cy="267" r="1.3"/><circle cx="85.15" cy="275.67" r="1.3"/><circle cx="85.15" cy="277.91" r="1.3"/><circle cx="85.15" cy="281.99" r="1.3"/><circle cx="85.15" cy="284.38" r="1.3"/><circle cx="85.15" cy="285.46" r="1.3"/><circle cx="85.15" cy="287.71" r="1.3"/><circle cx="85.15" cy="290.24" r="1.3"/><circle cx="85.15" cy="292.13" r="1.3"/><circle cx="85.15" cy="293.5" r="1.3"/><circle cx="85.15" cy="295.29" r="1.3"/><circle cx="85.15" cy="296.89" r="1.3"/><circle cx="85.15" cy="299.33" r="1.3"/><circle cx="85.15" cy="300.96" r="1.3"/><circle cx="85.15" cy="305.13" r="1.3"/><circle cx="85.15" cy="307.37" r="1.3"/><circle cx="85.15" cy="316.8" r="1.3"/></g><path d="M83.65 290.3l3 3M83.65 293.3l3 -3" stroke="#333" stroke-width=".55" fill="none"/>
<path d="M94.95 254.3V273.6M94.95 291.1V309.5M93.35 254.3h3.2M93.35 309.5h3.2" stroke="#595959" stroke-width=".6" fill="none"/><rect x="90.55" y="273.6" width="8.8" height="17.5" fill="#9dc4e8" stroke="#5a86b4" stroke-width=".7"/><path d="M90.55 284.3h8.8" stroke="#4d4d4d" stroke-width=".6"/><g fill="#82b0e0" stroke="#505050" stroke-width=".4"><circle cx="94.95" cy="254.5" r="1.3"/><circle cx="94.95" cy="261.77" r="1.3"/><circle cx="94.95" cy="269.56" r="1.3"/><circle cx="94.95" cy="272.99" r="1.3"/><circle cx="94.95" cy="274.15" r="1.3"/><circle cx="94.95" cy="276.78" r="1.3"/><circle cx="94.95" cy="279.6" r="1.3"/><circle cx="94.95" cy="282.48" r="1.3"/><circle cx="94.95" cy="283.86" r="1.3"/><circle cx="94.95" cy="285.94" r="1.3"/><circle cx="94.95" cy="287.9" r="1.3"/><circle cx="94.95" cy="289.37" r="1.3"/><circle cx="94.95" cy="290.56" r="1.3"/><circle cx="94.95" cy="292.23" r="1.3"/><circle cx="94.95" cy="295.58" r="1.3"/><circle cx="94.95" cy="299.41" r="1.3"/><circle cx="94.95" cy="309.3" r="1.3"/></g><path d="M93.45 282.2l3 3M93.45 285.2l3 -3" stroke="#333" stroke-width=".55" fill="none"/>
<path d="M104.75 265.9V285.9M104.75 302.1V322.4M103.15 265.9h3.2M103.15 322.4h3.2" stroke="#595959" stroke-width=".6" fill="none"/><rect x="100.35" y="285.9" width="8.8" height="16.2" fill="#a8d48c" stroke="#679a48" stroke-width=".7"/><path d="M100.35 293.8h8.8" stroke="#4d4d4d" stroke-width=".6"/><g fill="#90c46e" stroke="#505050" stroke-width=".4"><circle cx="104.75" cy="266.1" r="1.3"/><circle cx="104.75" cy="274.18" r="1.3"/><circle cx="104.75" cy="281.37" r="1.3"/><circle cx="104.75" cy="283.39" r="1.3"/><circle cx="104.75" cy="286.78" r="1.3"/><circle cx="104.75" cy="287.9" r="1.3"/><circle cx="104.75" cy="290.26" r="1.3"/><circle cx="104.75" cy="292.57" r="1.3"/><circle cx="104.75" cy="293.92" r="1.3"/><circle cx="104.75" cy="295.98" r="1.3"/><circle cx="104.75" cy="297.45" r="1.3"/><circle cx="104.75" cy="298.98" r="1.3"/><circle cx="104.75" cy="300.97" r="1.3"/><circle cx="104.75" cy="302.93" r="1.3"/><circle cx="104.75" cy="307.84" r="1.3"/><circle cx="104.75" cy="312.39" r="1.3"/><circle cx="104.75" cy="322.2" r="1.3"/></g><path d="M103.25 291.7l3 3M103.25 294.7l3 -3" stroke="#333" stroke-width=".55" fill="none"/>
<path d="M114.55 271.6V277.4M114.55 283.6V290M112.95 271.6h3.2M112.95 290h3.2" stroke="#595959" stroke-width=".6" fill="none"/><rect x="110.15" y="277.4" width="8.8" height="6.2" fill="#f6b381" stroke="#b07040" stroke-width=".7"/><path d="M110.15 280.4h8.8" stroke="#4d4d4d" stroke-width=".6"/><g fill="#ee9558" stroke="#505050" stroke-width=".4"><circle cx="114.55" cy="271.8" r="1.3"/><circle cx="114.55" cy="274.06" r="1.3"/><circle cx="114.55" cy="276.01" r="1.3"/><circle cx="114.55" cy="276.65" r="1.3"/><circle cx="114.55" cy="277.38" r="1.3"/><circle cx="114.55" cy="278.21" r="1.3"/><circle cx="114.55" cy="278.79" r="1.3"/><circle cx="114.55" cy="279.62" r="1.3"/><circle cx="114.55" cy="280.26" r="1.3"/><circle cx="114.55" cy="281.2" r="1.3"/><circle cx="114.55" cy="281.95" r="1.3"/><circle cx="114.55" cy="282.5" r="1.3"/><circle cx="114.55" cy="283.48" r="1.3"/><circle cx="114.55" cy="284.06" r="1.3"/><circle cx="114.55" cy="284.93" r="1.3"/><circle cx="114.55" cy="287.5" r="1.3"/><circle cx="114.55" cy="289.8" r="1.3"/><circle cx="114.55" cy="293.3" r="1.3"/></g><path d="M113.05 278.6l3 3M113.05 281.6l3 -3" stroke="#333" stroke-width=".55" fill="none"/>
<path d="M124.35 281.8V287.1M124.35 294.6V302.9M122.75 281.8h3.2M122.75 302.9h3.2" stroke="#595959" stroke-width=".6" fill="none"/><rect x="119.95" y="287.1" width="8.8" height="7.5" fill="#d2d2d2" stroke="#808080" stroke-width=".7"/><path d="M119.95 290.8h8.8" stroke="#4d4d4d" stroke-width=".6"/><g fill="#a8a8a8" stroke="#505050" stroke-width=".4"><circle cx="124.35" cy="282" r="1.3"/><circle cx="124.35" cy="283.87" r="1.3"/><circle cx="124.35" cy="285.39" r="1.3"/><circle cx="124.35" cy="286.79" r="1.3"/><circle cx="124.35" cy="287.18" r="1.3"/><circle cx="124.35" cy="288.38" r="1.3"/><circle cx="124.35" cy="289.34" r="1.3"/><circle cx="124.35" cy="289.66" r="1.3"/><circle cx="124.35" cy="291" r="1.3"/><circle cx="124.35" cy="291.94" r="1.3"/><circle cx="124.35" cy="292.65" r="1.3"/><circle cx="124.35" cy="293.53" r="1.3"/><circle cx="124.35" cy="294.44" r="1.3"/><circle cx="124.35" cy="295.23" r="1.3"/><circle cx="124.35" cy="296.78" r="1.3"/><circle cx="124.35" cy="298.38" r="1.3"/><circle cx="124.35" cy="302.7" r="1.3"/></g><path d="M122.85 288.7l3 3M122.85 291.7l3 -3" stroke="#333" stroke-width=".55" fill="none"/>
<path d="M134.15 284.4V290.3M134.15 296.4V303.2M132.55 284.4h3.2M132.55 303.2h3.2" stroke="#595959" stroke-width=".6" fill="none"/><rect x="129.75" y="290.3" width="8.8" height="6.1" fill="#9dc4e8" stroke="#5a86b4" stroke-width=".7"/><path d="M129.75 293.2h8.8" stroke="#4d4d4d" stroke-width=".6"/><g fill="#82b0e0" stroke="#505050" stroke-width=".4"><circle cx="134.15" cy="284.6" r="1.3"/><circle cx="134.15" cy="287.12" r="1.3"/><circle cx="134.15" cy="288.49" r="1.3"/><circle cx="134.15" cy="289.57" r="1.3"/><circle cx="134.15" cy="290.6" r="1.3"/><circle cx="134.15" cy="290.92" r="1.3"/><circle cx="134.15" cy="291.86" r="1.3"/><circle cx="134.15" cy="292.73" r="1.3"/><circle cx="134.15" cy="293.03" r="1.3"/><circle cx="134.15" cy="293.79" r="1.3"/><circle cx="134.15" cy="294.76" r="1.3"/><circle cx="134.15" cy="295.46" r="1.3"/><circle cx="134.15" cy="296.29" r="1.3"/><circle cx="134.15" cy="297.14" r="1.3"/><circle cx="134.15" cy="297.86" r="1.3"/><circle cx="134.15" cy="299.68" r="1.3"/><circle cx="134.15" cy="303" r="1.3"/><circle cx="134.15" cy="306.8" r="1.3"/></g><path d="M132.65 291.1l3 3M132.65 294.1l3 -3" stroke="#333" stroke-width=".55" fill="none"/>
<path d="M143.95 278V285.3M143.95 291.8V300M142.35 278h3.2M142.35 300h3.2" stroke="#595959" stroke-width=".6" fill="none"/><rect x="139.55" y="285.3" width="8.8" height="6.5" fill="#a8d48c" stroke="#679a48" stroke-width=".7"/><path d="M139.55 288.6h8.8" stroke="#4d4d4d" stroke-width=".6"/><g fill="#90c46e" stroke="#505050" stroke-width=".4"><circle cx="143.95" cy="278.2" r="1.3"/><circle cx="143.95" cy="281.82" r="1.3"/><circle cx="143.95" cy="283.35" r="1.3"/><circle cx="143.95" cy="284.79" r="1.3"/><circle cx="143.95" cy="285.43" r="1.3"/><circle cx="143.95" cy="286.24" r="1.3"/><circle cx="143.95" cy="287.27" r="1.3"/><circle cx="143.95" cy="287.6" r="1.3"/><circle cx="143.95" cy="288.68" r="1.3"/><circle cx="143.95" cy="289.18" r="1.3"/><circle cx="143.95" cy="290.37" r="1.3"/><circle cx="143.95" cy="290.73" r="1.3"/><circle cx="143.95" cy="291.69" r="1.3"/><circle cx="143.95" cy="292.12" r="1.3"/><circle cx="143.95" cy="294.49" r="1.3"/><circle cx="143.95" cy="296.78" r="1.3"/><circle cx="143.95" cy="299.8" r="1.3"/></g><path d="M142.45 287.1l3 3M142.45 290.1l3 -3" stroke="#333" stroke-width=".55" fill="none"/>
<path d="M153.75 256.8V267.5M153.75 278.3V289.9M152.15 256.8h3.2M152.15 289.9h3.2" stroke="#595959" stroke-width=".6" fill="none"/><rect x="149.35" y="267.5" width="8.8" height="10.8" fill="#f6b381" stroke="#b07040" stroke-width=".7"/><path d="M149.35 273h8.8" stroke="#4d4d4d" stroke-width=".6"/><g fill="#ee9558" stroke="#505050" stroke-width=".4"><circle cx="153.75" cy="257" r="1.3"/><circle cx="153.75" cy="261.43" r="1.3"/><circle cx="153.75" cy="264.76" r="1.3"/><circle cx="153.75" cy="266.63" r="1.3"/><circle cx="153.75" cy="268.08" r="1.3"/><circle cx="153.75" cy="269.14" r="1.3"/><circle cx="153.75" cy="270.2" r="1.3"/><circle cx="153.75" cy="271.83" r="1.3"/><circle cx="153.75" cy="273.41" r="1.3"/><circle cx="153.75" cy="274" r="1.3"/><circle cx="153.75" cy="275.83" r="1.3"/><circle cx="153.75" cy="276.32" r="1.3"/><circle cx="153.75" cy="277.78" r="1.3"/><circle cx="153.75" cy="278.86" r="1.3"/><circle cx="153.75" cy="281.82" r="1.3"/><circle cx="153.75" cy="285.39" r="1.3"/><circle cx="153.75" cy="289.7" r="1.3"/><circle cx="153.75" cy="295.8" r="1.3"/></g><path d="M152.25 271.5l3 3M152.25 274.5l3 -3" stroke="#333" stroke-width=".55" fill="none"/>
<path d="M163.55 256.8V269.3M163.55 280.2V297.3M161.95 256.8h3.2M161.95 297.3h3.2" stroke="#595959" stroke-width=".6" fill="none"/><rect x="159.15" y="269.3" width="8.8" height="10.9" fill="#d2d2d2" stroke="#808080" stroke-width=".7"/><path d="M159.15 274.7h8.8" stroke="#4d4d4d" stroke-width=".6"/><g fill="#a8a8a8" stroke="#505050" stroke-width=".4"><circle cx="163.55" cy="257" r="1.3"/><circle cx="163.55" cy="262.52" r="1.3"/><circle cx="163.55" cy="266.2" r="1.3"/><circle cx="163.55" cy="268.21" r="1.3"/><circle cx="163.55" cy="269.93" r="1.3"/><circle cx="163.55" cy="271.26" r="1.3"/><circle cx="163.55" cy="272.59" r="1.3"/><circle cx="163.55" cy="273.73" r="1.3"/><circle cx="163.55" cy="274.73" r="1.3"/><circle cx="163.55" cy="275.97" r="1.3"/><circle cx="163.55" cy="277.32" r="1.3"/><circle cx="163.55" cy="278.14" r="1.3"/><circle cx="163.55" cy="279.45" r="1.3"/><circle cx="163.55" cy="282.36" r="1.3"/><circle cx="163.55" cy="284.02" r="1.3"/><circle cx="163.55" cy="290.44" r="1.3"/><circle cx="163.55" cy="297.1" r="1.3"/><circle cx="163.55" cy="303.2" r="1.3"/></g><path d="M162.05 273.5l3 3M162.05 276.5l3 -3" stroke="#333" stroke-width=".55" fill="none"/>
<path d="M173.35 263.3V271.2M173.35 283.9V299.1M171.75 263.3h3.2M171.75 299.1h3.2" stroke="#595959" stroke-width=".6" fill="none"/><rect x="168.95" y="271.2" width="8.8" height="12.7" fill="#9dc4e8" stroke="#5a86b4" stroke-width=".7"/><path d="M168.95 277.4h8.8" stroke="#4d4d4d" stroke-width=".6"/><g fill="#82b0e0" stroke="#505050" stroke-width=".4"><circle cx="173.35" cy="263.5" r="1.3"/><circle cx="173.35" cy="266.41" r="1.3"/><circle cx="173.35" cy="269.61" r="1.3"/><circle cx="173.35" cy="270.3" r="1.3"/><circle cx="173.35" cy="271.18" r="1.3"/><circle cx="173.35" cy="272.62" r="1.3"/><circle cx="173.35" cy="274.92" r="1.3"/><circle cx="173.35" cy="275.78" r="1.3"/><circle cx="173.35" cy="277.03" r="1.3"/><circle cx="173.35" cy="278.42" r="1.3"/><circle cx="173.35" cy="279.97" r="1.3"/><circle cx="173.35" cy="282.19" r="1.3"/><circle cx="173.35" cy="283.66" r="1.3"/><circle cx="173.35" cy="285.35" r="1.3"/><circle cx="173.35" cy="288.5" r="1.3"/><circle cx="173.35" cy="290.54" r="1.3"/><circle cx="173.35" cy="298.9" r="1.3"/></g><path d="M171.85 275.9l3 3M171.85 278.9l3 -3" stroke="#333" stroke-width=".55" fill="none"/>
<path d="M183.15 261.4V270.6M183.15 281.7V298.2M181.55 261.4h3.2M181.55 298.2h3.2" stroke="#595959" stroke-width=".6" fill="none"/><rect x="178.75" y="270.6" width="8.8" height="11.1" fill="#a8d48c" stroke="#679a48" stroke-width=".7"/><path d="M178.75 276.1h8.8" stroke="#4d4d4d" stroke-width=".6"/><g fill="#90c46e" stroke="#505050" stroke-width=".4"><circle cx="183.15" cy="261.6" r="1.3"/><circle cx="183.15" cy="266.62" r="1.3"/><circle cx="183.15" cy="268.22" r="1.3"/><circle cx="183.15" cy="270.07" r="1.3"/><circle cx="183.15" cy="271.27" r="1.3"/><circle cx="183.15" cy="272.45" r="1.3"/><circle cx="183.15" cy="273.7" r="1.3"/><circle cx="183.15" cy="274.7" r="1.3"/><circle cx="183.15" cy="275.87" r="1.3"/><circle cx="183.15" cy="277.14" r="1.3"/><circle cx="183.15" cy="278.31" r="1.3"/><circle cx="183.15" cy="280.47" r="1.3"/><circle cx="183.15" cy="281.71" r="1.3"/><circle cx="183.15" cy="283.38" r="1.3"/><circle cx="183.15" cy="285.03" r="1.3"/><circle cx="183.15" cy="291.13" r="1.3"/><circle cx="183.15" cy="298" r="1.3"/></g><path d="M181.65 274.9l3 3M181.65 277.9l3 -3" stroke="#333" stroke-width=".55" fill="none"/>
<path d="M192.95 275.8V288.6M192.95 299.1V311.1M191.35 275.8h3.2M191.35 311.1h3.2" stroke="#595959" stroke-width=".6" fill="none"/><rect x="188.55" y="288.6" width="8.8" height="10.5" fill="#f6b381" stroke="#b07040" stroke-width=".7"/><path d="M188.55 293.1h8.8" stroke="#4d4d4d" stroke-width=".6"/><g fill="#ee9558" stroke="#505050" stroke-width=".4"><circle cx="192.95" cy="276" r="1.3"/><circle cx="192.95" cy="280.89" r="1.3"/><circle cx="192.95" cy="285.73" r="1.3"/><circle cx="192.95" cy="287.23" r="1.3"/><circle cx="192.95" cy="288.73" r="1.3"/><circle cx="192.95" cy="289.87" r="1.3"/><circle cx="192.95" cy="290.63" r="1.3"/><circle cx="192.95" cy="291.86" r="1.3"/><circle cx="192.95" cy="292.94" r="1.3"/><circle cx="192.95" cy="294.72" r="1.3"/><circle cx="192.95" cy="295.79" r="1.3"/><circle cx="192.95" cy="297.16" r="1.3"/><circle cx="192.95" cy="299.13" r="1.3"/><circle cx="192.95" cy="299.99" r="1.3"/><circle cx="192.95" cy="302.96" r="1.3"/><circle cx="192.95" cy="305.63" r="1.3"/><circle cx="192.95" cy="310.9" r="1.3"/></g><path d="M191.45 291.9l3 3M191.45 294.9l3 -3" stroke="#333" stroke-width=".55" fill="none"/>
<path d="M202.75 273V285.3M202.75 296.4V308.3M201.15 273h3.2M201.15 308.3h3.2" stroke="#595959" stroke-width=".6" fill="none"/><rect x="198.35" y="285.3" width="8.8" height="11.1" fill="#d2d2d2" stroke="#808080" stroke-width=".7"/><path d="M198.35 290.8h8.8" stroke="#4d4d4d" stroke-width=".6"/><g fill="#a8a8a8" stroke="#505050" stroke-width=".4"><circle cx="202.75" cy="273.2" r="1.3"/><circle cx="202.75" cy="278.94" r="1.3"/><circle cx="202.75" cy="281.24" r="1.3"/><circle cx="202.75" cy="284.35" r="1.3"/><circle cx="202.75" cy="285.28" r="1.3"/><circle cx="202.75" cy="286.98" r="1.3"/><circle cx="202.75" cy="288.41" r="1.3"/><circle cx="202.75" cy="289.8" r="1.3"/><circle cx="202.75" cy="290.87" r="1.3"/><circle cx="202.75" cy="291.92" r="1.3"/><circle cx="202.75" cy="293.38" r="1.3"/><circle cx="202.75" cy="294.77" r="1.3"/><circle cx="202.75" cy="295.88" r="1.3"/><circle cx="202.75" cy="297.61" r="1.3"/><circle cx="202.75" cy="298.74" r="1.3"/><circle cx="202.75" cy="302.24" r="1.3"/><circle cx="202.75" cy="308.1" r="1.3"/></g><path d="M201.25 289l3 3M201.25 292l3 -3" stroke="#333" stroke-width=".55" fill="none"/>
<path d="M212.55 275.6V288.5M212.55 299.7V311.1M210.95 275.6h3.2M210.95 311.1h3.2" stroke="#595959" stroke-width=".6" fill="none"/><rect x="208.15" y="288.5" width="8.8" height="11.2" fill="#9dc4e8" stroke="#5a86b4" stroke-width=".7"/><path d="M208.15 293.6h8.8" stroke="#4d4d4d" stroke-width=".6"/><g fill="#82b0e0" stroke="#505050" stroke-width=".4"><circle cx="212.55" cy="275.8" r="1.3"/><circle cx="212.55" cy="282.02" r="1.3"/><circle cx="212.55" cy="285.98" r="1.3"/><circle cx="212.55" cy="287.56" r="1.3"/><circle cx="212.55" cy="288.87" r="1.3"/><circle cx="212.55" cy="289.71" r="1.3"/><circle cx="212.55" cy="291.46" r="1.3"/><circle cx="212.55" cy="292.77" r="1.3"/><circle cx="212.55" cy="293.37" r="1.3"/><circle cx="212.55" cy="294.7" r="1.3"/><circle cx="212.55" cy="296.91" r="1.3"/><circle cx="212.55" cy="298.17" r="1.3"/><circle cx="212.55" cy="299.33" r="1.3"/><circle cx="212.55" cy="301.19" r="1.3"/><circle cx="212.55" cy="302.82" r="1.3"/><circle cx="212.55" cy="304.76" r="1.3"/><circle cx="212.55" cy="310.9" r="1.3"/></g><path d="M211.05 291.5l3 3M211.05 294.5l3 -3" stroke="#333" stroke-width=".55" fill="none"/>
<path d="M222.35 280.7V294M222.35 305.2V318.4M220.75 280.7h3.2M220.75 318.4h3.2" stroke="#595959" stroke-width=".6" fill="none"/><rect x="217.95" y="294" width="8.8" height="11.2" fill="#a8d48c" stroke="#679a48" stroke-width=".7"/><path d="M217.95 299.1h8.8" stroke="#4d4d4d" stroke-width=".6"/><g fill="#90c46e" stroke="#505050" stroke-width=".4"><circle cx="222.35" cy="280.9" r="1.3"/><circle cx="222.35" cy="286.8" r="1.3"/><circle cx="222.35" cy="291.28" r="1.3"/><circle cx="222.35" cy="292.39" r="1.3"/><circle cx="222.35" cy="294.63" r="1.3"/><circle cx="222.35" cy="295.1" r="1.3"/><circle cx="222.35" cy="296.45" r="1.3"/><circle cx="222.35" cy="297.7" r="1.3"/><circle cx="222.35" cy="299.5" r="1.3"/><circle cx="222.35" cy="300.54" r="1.3"/><circle cx="222.35" cy="301.85" r="1.3"/><circle cx="222.35" cy="303.79" r="1.3"/><circle cx="222.35" cy="304.57" r="1.3"/><circle cx="222.35" cy="306.13" r="1.3"/><circle cx="222.35" cy="308.75" r="1.3"/><circle cx="222.35" cy="312.75" r="1.3"/><circle cx="222.35" cy="318.2" r="1.3"/></g><path d="M220.85 297l3 3M220.85 300l3 -3" stroke="#333" stroke-width=".55" fill="none"/>
<path d="M232.15 278V287.5M232.15 298.2V311.1M230.55 278h3.2M230.55 311.1h3.2" stroke="#595959" stroke-width=".6" fill="none"/><rect x="227.75" y="287.5" width="8.8" height="10.7" fill="#f6b381" stroke="#b07040" stroke-width=".7"/><path d="M227.75 292.7h8.8" stroke="#4d4d4d" stroke-width=".6"/><g fill="#ee9558" stroke="#505050" stroke-width=".4"><circle cx="232.15" cy="278.2" r="1.3"/><circle cx="232.15" cy="282.22" r="1.3"/><circle cx="232.15" cy="284.45" r="1.3"/><circle cx="232.15" cy="287.11" r="1.3"/><circle cx="232.15" cy="287.94" r="1.3"/><circle cx="232.15" cy="289.24" r="1.3"/><circle cx="232.15" cy="289.97" r="1.3"/><circle cx="232.15" cy="291.42" r="1.3"/><circle cx="232.15" cy="292.95" r="1.3"/><circle cx="232.15" cy="294.07" r="1.3"/><circle cx="232.15" cy="294.95" r="1.3"/><circle cx="232.15" cy="296.55" r="1.3"/><circle cx="232.15" cy="298.2" r="1.3"/><circle cx="232.15" cy="298.83" r="1.3"/><circle cx="232.15" cy="301" r="1.3"/><circle cx="232.15" cy="304.41" r="1.3"/><circle cx="232.15" cy="310.9" r="1.3"/></g><path d="M230.65 291.8l3 3M230.65 294.8l3 -3" stroke="#333" stroke-width=".55" fill="none"/>
<path d="M241.95 278V286.8M241.95 298.2V311.1M240.35 278h3.2M240.35 311.1h3.2" stroke="#595959" stroke-width=".6" fill="none"/><rect x="237.55" y="286.8" width="8.8" height="11.4" fill="#d2d2d2" stroke="#808080" stroke-width=".7"/><path d="M237.55 292.3h8.8" stroke="#4d4d4d" stroke-width=".6"/><g fill="#a8a8a8" stroke="#505050" stroke-width=".4"><circle cx="241.95" cy="278.2" r="1.3"/><circle cx="241.95" cy="281.61" r="1.3"/><circle cx="241.95" cy="284.11" r="1.3"/><circle cx="241.95" cy="285.98" r="1.3"/><circle cx="241.95" cy="287.14" r="1.3"/><circle cx="241.95" cy="288.11" r="1.3"/><circle cx="241.95" cy="289.56" r="1.3"/><circle cx="241.95" cy="290.72" r="1.3"/><circle cx="241.95" cy="292.76" r="1.3"/><circle cx="241.95" cy="293.91" r="1.3"/><circle cx="241.95" cy="294.69" r="1.3"/><circle cx="241.95" cy="296.91" r="1.3"/><circle cx="241.95" cy="297.47" r="1.3"/><circle cx="241.95" cy="299.01" r="1.3"/><circle cx="241.95" cy="302.64" r="1.3"/><circle cx="241.95" cy="305.68" r="1.3"/><circle cx="241.95" cy="310.9" r="1.3"/></g><path d="M240.45 291.1l3 3M240.45 294.1l3 -3" stroke="#333" stroke-width=".55" fill="none"/>
<path d="M251.75 278.9V288.1M251.75 299.1V313.5M250.15 278.9h3.2M250.15 313.5h3.2" stroke="#595959" stroke-width=".6" fill="none"/><rect x="247.35" y="288.1" width="8.8" height="11" fill="#9dc4e8" stroke="#5a86b4" stroke-width=".7"/><path d="M247.35 293.6h8.8" stroke="#4d4d4d" stroke-width=".6"/><g fill="#82b0e0" stroke="#505050" stroke-width=".4"><circle cx="251.75" cy="279.1" r="1.3"/><circle cx="251.75" cy="282.58" r="1.3"/><circle cx="251.75" cy="286.24" r="1.3"/><circle cx="251.75" cy="287.2" r="1.3"/><circle cx="251.75" cy="288.77" r="1.3"/><circle cx="251.75" cy="289.68" r="1.3"/><circle cx="251.75" cy="290.57" r="1.3"/><circle cx="251.75" cy="292.63" r="1.3"/><circle cx="251.75" cy="293.54" r="1.3"/><circle cx="251.75" cy="294.64" r="1.3"/><circle cx="251.75" cy="296.62" r="1.3"/><circle cx="251.75" cy="297.3" r="1.3"/><circle cx="251.75" cy="298.34" r="1.3"/><circle cx="251.75" cy="299.83" r="1.3"/><circle cx="251.75" cy="303.46" r="1.3"/><circle cx="251.75" cy="305.23" r="1.3"/><circle cx="251.75" cy="313.3" r="1.3"/></g><path d="M250.25 292.4l3 3M250.25 295.4l3 -3" stroke="#333" stroke-width=".55" fill="none"/>
<path d="M261.55 279.8V290.3M261.55 301.5V315.3M259.95 279.8h3.2M259.95 315.3h3.2" stroke="#595959" stroke-width=".6" fill="none"/><rect x="257.15" y="290.3" width="8.8" height="11.2" fill="#a8d48c" stroke="#679a48" stroke-width=".7"/><path d="M257.15 295.8h8.8" stroke="#4d4d4d" stroke-width=".6"/><g fill="#90c46e" stroke="#505050" stroke-width=".4"><circle cx="261.55" cy="280" r="1.3"/><circle cx="261.55" cy="285.02" r="1.3"/><circle cx="261.55" cy="287.77" r="1.3"/><circle cx="261.55" cy="289.87" r="1.3"/><circle cx="261.55" cy="290.78" r="1.3"/><circle cx="261.55" cy="292.06" r="1.3"/><circle cx="261.55" cy="293.55" r="1.3"/><circle cx="261.55" cy="294.63" r="1.3"/><circle cx="261.55" cy="295.88" r="1.3"/><circle cx="261.55" cy="296.89" r="1.3"/><circle cx="261.55" cy="298.18" r="1.3"/><circle cx="261.55" cy="299.47" r="1.3"/><circle cx="261.55" cy="301.1" r="1.3"/><circle cx="261.55" cy="302.2" r="1.3"/><circle cx="261.55" cy="305.59" r="1.3"/><circle cx="261.55" cy="309.79" r="1.3"/><circle cx="261.55" cy="315.1" r="1.3"/></g><path d="M260.05 294.6l3 3M260.05 297.6l3 -3" stroke="#333" stroke-width=".55" fill="none"/>
<path d="M271.35 274.3V282.9M271.35 295.4V310.9M269.75 274.3h3.2M269.75 310.9h3.2" stroke="#595959" stroke-width=".6" fill="none"/><rect x="266.95" y="282.9" width="8.8" height="12.5" fill="#f6b381" stroke="#b07040" stroke-width=".7"/><path d="M266.95 289.2h8.8" stroke="#4d4d4d" stroke-width=".6"/><g fill="#ee9558" stroke="#505050" stroke-width=".4"><circle cx="271.35" cy="274.5" r="1.3"/><circle cx="271.35" cy="278.64" r="1.3"/><circle cx="271.35" cy="280.28" r="1.3"/><circle cx="271.35" cy="282.19" r="1.3"/><circle cx="271.35" cy="283.22" r="1.3"/><circle cx="271.35" cy="284.88" r="1.3"/><circle cx="271.35" cy="286.14" r="1.3"/><circle cx="271.35" cy="287.9" r="1.3"/><circle cx="271.35" cy="289.64" r="1.3"/><circle cx="271.35" cy="290.34" r="1.3"/><circle cx="271.35" cy="292.28" r="1.3"/><circle cx="271.35" cy="293.86" r="1.3"/><circle cx="271.35" cy="294.92" r="1.3"/><circle cx="271.35" cy="296.53" r="1.3"/><circle cx="271.35" cy="300.72" r="1.3"/><circle cx="271.35" cy="302.09" r="1.3"/><circle cx="271.35" cy="310.7" r="1.3"/></g><path d="M269.85 287.4l3 3M269.85 290.4l3 -3" stroke="#333" stroke-width=".55" fill="none"/>
<path d="M281.15 273.2V283.9M281.15 297.6V309.8M279.55 273.2h3.2M279.55 309.8h3.2" stroke="#595959" stroke-width=".6" fill="none"/><rect x="276.75" y="283.9" width="8.8" height="13.7" fill="#d2d2d2" stroke="#808080" stroke-width=".7"/><path d="M276.75 289.9h8.8" stroke="#4d4d4d" stroke-width=".6"/><g fill="#a8a8a8" stroke="#505050" stroke-width=".4"><circle cx="281.15" cy="273.4" r="1.3"/><circle cx="281.15" cy="279.26" r="1.3"/><circle cx="281.15" cy="280.55" r="1.3"/><circle cx="281.15" cy="282.93" r="1.3"/><circle cx="281.15" cy="284.6" r="1.3"/><circle cx="281.15" cy="285.62" r="1.3"/><circle cx="281.15" cy="286.78" r="1.3"/><circle cx="281.15" cy="288.46" r="1.3"/><circle cx="281.15" cy="289.42" r="1.3"/><circle cx="281.15" cy="292.08" r="1.3"/><circle cx="281.15" cy="293.36" r="1.3"/><circle cx="281.15" cy="295.14" r="1.3"/><circle cx="281.15" cy="297.45" r="1.3"/><circle cx="281.15" cy="298.45" r="1.3"/><circle cx="281.15" cy="301.82" r="1.3"/><circle cx="281.15" cy="303.2" r="1.3"/><circle cx="281.15" cy="309.6" r="1.3"/></g><path d="M279.65 287.8l3 3M279.65 290.8l3 -3" stroke="#333" stroke-width=".55" fill="none"/>
<path d="M290.95 282.6V290.5M290.95 303.3V319M289.35 282.6h3.2M289.35 319h3.2" stroke="#595959" stroke-width=".6" fill="none"/><rect x="286.55" y="290.5" width="8.8" height="12.8" fill="#9dc4e8" stroke="#5a86b4" stroke-width=".7"/><path d="M286.55 297.3h8.8" stroke="#4d4d4d" stroke-width=".6"/><g fill="#82b0e0" stroke="#505050" stroke-width=".4"><circle cx="290.95" cy="282.8" r="1.3"/><circle cx="290.95" cy="286.57" r="1.3"/><circle cx="290.95" cy="288.58" r="1.3"/><circle cx="290.95" cy="289.7" r="1.3"/><circle cx="290.95" cy="290.77" r="1.3"/><circle cx="290.95" cy="292.01" r="1.3"/><circle cx="290.95" cy="293.62" r="1.3"/><circle cx="290.95" cy="296.17" r="1.3"/><circle cx="290.95" cy="297.43" r="1.3"/><circle cx="290.95" cy="298.88" r="1.3"/><circle cx="290.95" cy="300.2" r="1.3"/><circle cx="290.95" cy="301.15" r="1.3"/><circle cx="290.95" cy="302.75" r="1.3"/><circle cx="290.95" cy="304.31" r="1.3"/><circle cx="290.95" cy="308.63" r="1.3"/><circle cx="290.95" cy="312.99" r="1.3"/><circle cx="290.95" cy="318.8" r="1.3"/></g><path d="M289.45 296.1l3 3M289.45 299.1l3 -3" stroke="#333" stroke-width=".55" fill="none"/>
<path d="M300.75 281.3V289M300.75 303.3V318.4M299.15 281.3h3.2M299.15 318.4h3.2" stroke="#595959" stroke-width=".6" fill="none"/><rect x="296.35" y="289" width="8.8" height="14.3" fill="#a8d48c" stroke="#679a48" stroke-width=".7"/><path d="M296.35 295.4h8.8" stroke="#4d4d4d" stroke-width=".6"/><g fill="#90c46e" stroke="#505050" stroke-width=".4"><circle cx="300.75" cy="281.5" r="1.3"/><circle cx="300.75" cy="284.47" r="1.3"/><circle cx="300.75" cy="287.47" r="1.3"/><circle cx="300.75" cy="288.05" r="1.3"/><circle cx="300.75" cy="289.69" r="1.3"/><circle cx="300.75" cy="290.56" r="1.3"/><circle cx="300.75" cy="292.54" r="1.3"/><circle cx="300.75" cy="294.13" r="1.3"/><circle cx="300.75" cy="295.81" r="1.3"/><circle cx="300.75" cy="296.8" r="1.3"/><circle cx="300.75" cy="299.33" r="1.3"/><circle cx="300.75" cy="301.41" r="1.3"/><circle cx="300.75" cy="303.22" r="1.3"/><circle cx="300.75" cy="304.29" r="1.3"/><circle cx="300.75" cy="308.53" r="1.3"/><circle cx="300.75" cy="311.95" r="1.3"/><circle cx="300.75" cy="318.2" r="1.3"/></g><path d="M299.25 294.2l3 3M299.25 297.2l3 -3" stroke="#333" stroke-width=".55" fill="none"/>
<path d="M310.55 294V297.3M310.55 305.6V314.7M308.95 294h3.2M308.95 314.7h3.2" stroke="#595959" stroke-width=".6" fill="none"/><rect x="306.15" y="297.3" width="8.8" height="8.3" fill="#f6b381" stroke="#b07040" stroke-width=".7"/><path d="M306.15 301h8.8" stroke="#4d4d4d" stroke-width=".6"/><g fill="#ee9558" stroke="#505050" stroke-width=".4"><circle cx="310.55" cy="294.2" r="1.3"/><circle cx="310.55" cy="295.81" r="1.3"/><circle cx="310.55" cy="296.3" r="1.3"/><circle cx="310.55" cy="297.01" r="1.3"/><circle cx="310.55" cy="297.37" r="1.3"/><circle cx="310.55" cy="298.34" r="1.3"/><circle cx="310.55" cy="299.07" r="1.3"/><circle cx="310.55" cy="299.83" r="1.3"/><circle cx="310.55" cy="301.17" r="1.3"/><circle cx="310.55" cy="301.92" r="1.3"/><circle cx="310.55" cy="302.97" r="1.3"/><circle cx="310.55" cy="304.1" r="1.3"/><circle cx="310.55" cy="305.31" r="1.3"/><circle cx="310.55" cy="306.21" r="1.3"/><circle cx="310.55" cy="308.21" r="1.3"/><circle cx="310.55" cy="310.63" r="1.3"/><circle cx="310.55" cy="314.5" r="1.3"/><circle cx="310.55" cy="283.5" r="1.3"/></g><path d="M309.05 299.5l3 3M309.05 302.5l3 -3" stroke="#333" stroke-width=".55" fill="none"/>
<path d="M320.35 287.2V299.7M320.35 310.1V319.3M318.75 287.2h3.2M318.75 319.3h3.2" stroke="#595959" stroke-width=".6" fill="none"/><rect x="315.95" y="299.7" width="8.8" height="10.4" fill="#d2d2d2" stroke="#808080" stroke-width=".7"/><path d="M315.95 304.6h8.8" stroke="#4d4d4d" stroke-width=".6"/><g fill="#a8a8a8" stroke="#505050" stroke-width=".4"><circle cx="320.35" cy="287.4" r="1.3"/><circle cx="320.35" cy="292.06" r="1.3"/><circle cx="320.35" cy="297.03" r="1.3"/><circle cx="320.35" cy="299.25" r="1.3"/><circle cx="320.35" cy="300.22" r="1.3"/><circle cx="320.35" cy="300.85" r="1.3"/><circle cx="320.35" cy="302.56" r="1.3"/><circle cx="320.35" cy="303.55" r="1.3"/><circle cx="320.35" cy="304.21" r="1.3"/><circle cx="320.35" cy="305.45" r="1.3"/><circle cx="320.35" cy="307.6" r="1.3"/><circle cx="320.35" cy="308.62" r="1.3"/><circle cx="320.35" cy="309.55" r="1.3"/><circle cx="320.35" cy="310.44" r="1.3"/><circle cx="320.35" cy="312.03" r="1.3"/><circle cx="320.35" cy="314.41" r="1.3"/><circle cx="320.35" cy="319.1" r="1.3"/></g><path d="M318.85 303.1l3 3M318.85 306.1l3 -3" stroke="#333" stroke-width=".55" fill="none"/>
<path d="M330.15 286.3V296.4M330.15 308.3V318.4M328.55 286.3h3.2M328.55 318.4h3.2" stroke="#595959" stroke-width=".6" fill="none"/><rect x="325.75" y="296.4" width="8.8" height="11.9" fill="#9dc4e8" stroke="#5a86b4" stroke-width=".7"/><path d="M325.75 301.9h8.8" stroke="#4d4d4d" stroke-width=".6"/><g fill="#82b0e0" stroke="#505050" stroke-width=".4"><circle cx="330.15" cy="286.5" r="1.3"/><circle cx="330.15" cy="290.55" r="1.3"/><circle cx="330.15" cy="293.57" r="1.3"/><circle cx="330.15" cy="295.69" r="1.3"/><circle cx="330.15" cy="296.82" r="1.3"/><circle cx="330.15" cy="298.19" r="1.3"/><circle cx="330.15" cy="299.74" r="1.3"/><circle cx="330.15" cy="300.23" r="1.3"/><circle cx="330.15" cy="302.32" r="1.3"/><circle cx="330.15" cy="303.46" r="1.3"/><circle cx="330.15" cy="305.06" r="1.3"/><circle cx="330.15" cy="306.2" r="1.3"/><circle cx="330.15" cy="307.92" r="1.3"/><circle cx="330.15" cy="308.77" r="1.3"/><circle cx="330.15" cy="310.32" r="1.3"/><circle cx="330.15" cy="314.25" r="1.3"/><circle cx="330.15" cy="318.2" r="1.3"/></g><path d="M328.65 299.8l3 3M328.65 302.8l3 -3" stroke="#333" stroke-width=".55" fill="none"/>
<path d="M339.95 296.9V307M339.95 319V328.5M338.35 296.9h3.2M338.35 328.5h3.2" stroke="#595959" stroke-width=".6" fill="none"/><rect x="335.55" y="307" width="8.8" height="12" fill="#a8d48c" stroke="#679a48" stroke-width=".7"/><path d="M335.55 312.9h8.8" stroke="#4d4d4d" stroke-width=".6"/><g fill="#90c46e" stroke="#505050" stroke-width=".4"><circle cx="339.95" cy="297.1" r="1.3"/><circle cx="339.95" cy="301.26" r="1.3"/><circle cx="339.95" cy="303.89" r="1.3"/><circle cx="339.95" cy="305.84" r="1.3"/><circle cx="339.95" cy="307.34" r="1.3"/><circle cx="339.95" cy="308.31" r="1.3"/><circle cx="339.95" cy="310.09" r="1.3"/><circle cx="339.95" cy="311.17" r="1.3"/><circle cx="339.95" cy="312.89" r="1.3"/><circle cx="339.95" cy="314.33" r="1.3"/><circle cx="339.95" cy="315.81" r="1.3"/><circle cx="339.95" cy="317.57" r="1.3"/><circle cx="339.95" cy="318.15" r="1.3"/><circle cx="339.95" cy="320.07" r="1.3"/><circle cx="339.95" cy="321.46" r="1.3"/><circle cx="339.95" cy="324.06" r="1.3"/><circle cx="339.95" cy="328.3" r="1.3"/></g><path d="M338.45 311.7l3 3M338.45 314.7l3 -3" stroke="#333" stroke-width=".55" fill="none"/>
<path d="M349.75 267.1V277.5M349.75 286.4V296.5M348.15 267.1h3.2M348.15 296.5h3.2" stroke="#595959" stroke-width=".6" fill="none"/><rect x="345.35" y="277.5" width="8.8" height="8.9" fill="#f6b381" stroke="#b07040" stroke-width=".7"/><path d="M345.35 282.3h8.8" stroke="#4d4d4d" stroke-width=".6"/><g fill="#ee9558" stroke="#505050" stroke-width=".4"><circle cx="349.75" cy="267.3" r="1.3"/><circle cx="349.75" cy="271.92" r="1.3"/><circle cx="349.75" cy="275.48" r="1.3"/><circle cx="349.75" cy="276.23" r="1.3"/><circle cx="349.75" cy="277.89" r="1.3"/><circle cx="349.75" cy="279.02" r="1.3"/><circle cx="349.75" cy="279.67" r="1.3"/><circle cx="349.75" cy="281.26" r="1.3"/><circle cx="349.75" cy="282.42" r="1.3"/><circle cx="349.75" cy="283.56" r="1.3"/><circle cx="349.75" cy="284.11" r="1.3"/><circle cx="349.75" cy="285.52" r="1.3"/><circle cx="349.75" cy="286.17" r="1.3"/><circle cx="349.75" cy="287.13" r="1.3"/><circle cx="349.75" cy="289.73" r="1.3"/><circle cx="349.75" cy="290.75" r="1.3"/><circle cx="349.75" cy="296.3" r="1.3"/><circle cx="349.75" cy="262.2" r="1.3"/></g><path d="M348.25 280.5l3 3M348.25 283.5l3 -3" stroke="#333" stroke-width=".55" fill="none"/>
<path d="M359.55 265V276.6M359.55 287.6V299M357.95 265h3.2M357.95 299h3.2" stroke="#595959" stroke-width=".6" fill="none"/><rect x="355.15" y="276.6" width="8.8" height="11" fill="#d2d2d2" stroke="#808080" stroke-width=".7"/><path d="M355.15 282.7h8.8" stroke="#4d4d4d" stroke-width=".6"/><g fill="#a8a8a8" stroke="#505050" stroke-width=".4"><circle cx="359.55" cy="265.2" r="1.3"/><circle cx="359.55" cy="271.38" r="1.3"/><circle cx="359.55" cy="273.29" r="1.3"/><circle cx="359.55" cy="275.71" r="1.3"/><circle cx="359.55" cy="276.98" r="1.3"/><circle cx="359.55" cy="278.67" r="1.3"/><circle cx="359.55" cy="279.54" r="1.3"/><circle cx="359.55" cy="281.2" r="1.3"/><circle cx="359.55" cy="282.62" r="1.3"/><circle cx="359.55" cy="283.9" r="1.3"/><circle cx="359.55" cy="285.27" r="1.3"/><circle cx="359.55" cy="285.99" r="1.3"/><circle cx="359.55" cy="287.58" r="1.3"/><circle cx="359.55" cy="288.33" r="1.3"/><circle cx="359.55" cy="290.62" r="1.3"/><circle cx="359.55" cy="293.02" r="1.3"/><circle cx="359.55" cy="298.8" r="1.3"/></g><path d="M358.05 280.9l3 3M358.05 283.9l3 -3" stroke="#333" stroke-width=".55" fill="none"/>
<path d="M369.35 267.1V277.5M369.35 285.4V296.8M367.75 267.1h3.2M367.75 296.8h3.2" stroke="#595959" stroke-width=".6" fill="none"/><rect x="364.95" y="277.5" width="8.8" height="7.9" fill="#9dc4e8" stroke="#5a86b4" stroke-width=".7"/><path d="M364.95 281.8h8.8" stroke="#4d4d4d" stroke-width=".6"/><g fill="#82b0e0" stroke="#505050" stroke-width=".4"><circle cx="369.35" cy="267.3" r="1.3"/><circle cx="369.35" cy="272.68" r="1.3"/><circle cx="369.35" cy="274.47" r="1.3"/><circle cx="369.35" cy="276.52" r="1.3"/><circle cx="369.35" cy="277.61" r="1.3"/><circle cx="369.35" cy="278.83" r="1.3"/><circle cx="369.35" cy="279.87" r="1.3"/><circle cx="369.35" cy="280.99" r="1.3"/><circle cx="369.35" cy="281.47" r="1.3"/><circle cx="369.35" cy="282.78" r="1.3"/><circle cx="369.35" cy="283.72" r="1.3"/><circle cx="369.35" cy="284.37" r="1.3"/><circle cx="369.35" cy="284.92" r="1.3"/><circle cx="369.35" cy="286.02" r="1.3"/><circle cx="369.35" cy="287.57" r="1.3"/><circle cx="369.35" cy="290.65" r="1.3"/><circle cx="369.35" cy="296.6" r="1.3"/></g><path d="M367.85 280.9l3 3M367.85 283.9l3 -3" stroke="#333" stroke-width=".55" fill="none"/>
<path d="M379.15 281.8V293.2M379.15 302.4V315.8M377.55 281.8h3.2M377.55 315.8h3.2" stroke="#595959" stroke-width=".6" fill="none"/><rect x="374.75" y="293.2" width="8.8" height="9.2" fill="#a8d48c" stroke="#679a48" stroke-width=".7"/><path d="M374.75 297.9h8.8" stroke="#4d4d4d" stroke-width=".6"/><g fill="#90c46e" stroke="#505050" stroke-width=".4"><circle cx="379.15" cy="282" r="1.3"/><circle cx="379.15" cy="286.24" r="1.3"/><circle cx="379.15" cy="290.19" r="1.3"/><circle cx="379.15" cy="292.41" r="1.3"/><circle cx="379.15" cy="293.38" r="1.3"/><circle cx="379.15" cy="294.31" r="1.3"/><circle cx="379.15" cy="295.82" r="1.3"/><circle cx="379.15" cy="296.94" r="1.3"/><circle cx="379.15" cy="298.18" r="1.3"/><circle cx="379.15" cy="298.65" r="1.3"/><circle cx="379.15" cy="299.68" r="1.3"/><circle cx="379.15" cy="301.18" r="1.3"/><circle cx="379.15" cy="302.23" r="1.3"/><circle cx="379.15" cy="302.98" r="1.3"/><circle cx="379.15" cy="306.29" r="1.3"/><circle cx="379.15" cy="310.38" r="1.3"/><circle cx="379.15" cy="315.6" r="1.3"/></g><path d="M377.65 295.8l3 3M377.65 298.8l3 -3" stroke="#333" stroke-width=".55" fill="none"/>
<path d="M388.95 277.7V288.6M388.95 297.4V309.3M387.35 277.7h3.2M387.35 309.3h3.2" stroke="#595959" stroke-width=".6" fill="none"/><rect x="384.55" y="288.6" width="8.8" height="8.8" fill="#f6b381" stroke="#b07040" stroke-width=".7"/><path d="M384.55 292.8h8.8" stroke="#4d4d4d" stroke-width=".6"/><g fill="#ee9558" stroke="#505050" stroke-width=".4"><circle cx="388.95" cy="277.9" r="1.3"/><circle cx="388.95" cy="283.26" r="1.3"/><circle cx="388.95" cy="285.49" r="1.3"/><circle cx="388.95" cy="288.13" r="1.3"/><circle cx="388.95" cy="289.05" r="1.3"/><circle cx="388.95" cy="289.88" r="1.3"/><circle cx="388.95" cy="290.66" r="1.3"/><circle cx="388.95" cy="291.67" r="1.3"/><circle cx="388.95" cy="292.75" r="1.3"/><circle cx="388.95" cy="293.74" r="1.3"/><circle cx="388.95" cy="294.91" r="1.3"/><circle cx="388.95" cy="296.15" r="1.3"/><circle cx="388.95" cy="297.42" r="1.3"/><circle cx="388.95" cy="297.79" r="1.3"/><circle cx="388.95" cy="300.67" r="1.3"/><circle cx="388.95" cy="302.54" r="1.3"/><circle cx="388.95" cy="309.1" r="1.3"/></g><path d="M387.45 291.6l3 3M387.45 294.6l3 -3" stroke="#333" stroke-width=".55" fill="none"/>
<path d="M398.75 279V289.5M398.75 299.2V310.3M397.15 279h3.2M397.15 310.3h3.2" stroke="#595959" stroke-width=".6" fill="none"/><rect x="394.35" y="289.5" width="8.8" height="9.7" fill="#d2d2d2" stroke="#808080" stroke-width=".7"/><path d="M394.35 294.3h8.8" stroke="#4d4d4d" stroke-width=".6"/><g fill="#a8a8a8" stroke="#505050" stroke-width=".4"><circle cx="398.75" cy="279.2" r="1.3"/><circle cx="398.75" cy="284.88" r="1.3"/><circle cx="398.75" cy="286.64" r="1.3"/><circle cx="398.75" cy="288.14" r="1.3"/><circle cx="398.75" cy="289.69" r="1.3"/><circle cx="398.75" cy="290.98" r="1.3"/><circle cx="398.75" cy="292.39" r="1.3"/><circle cx="398.75" cy="293.55" r="1.3"/><circle cx="398.75" cy="294.28" r="1.3"/><circle cx="398.75" cy="295.38" r="1.3"/><circle cx="398.75" cy="296.28" r="1.3"/><circle cx="398.75" cy="297.88" r="1.3"/><circle cx="398.75" cy="298.68" r="1.3"/><circle cx="398.75" cy="299.66" r="1.3"/><circle cx="398.75" cy="301.32" r="1.3"/><circle cx="398.75" cy="303.92" r="1.3"/><circle cx="398.75" cy="310.1" r="1.3"/></g><path d="M397.25 292.2l3 3M397.25 295.2l3 -3" stroke="#333" stroke-width=".55" fill="none"/>
<path d="M408.55 278.1V288.6M408.55 297.4V309.3M406.95 278.1h3.2M406.95 309.3h3.2" stroke="#595959" stroke-width=".6" fill="none"/><rect x="404.15" y="288.6" width="8.8" height="8.8" fill="#9dc4e8" stroke="#5a86b4" stroke-width=".7"/><path d="M404.15 293.2h8.8" stroke="#4d4d4d" stroke-width=".6"/><g fill="#82b0e0" stroke="#505050" stroke-width=".4"><circle cx="408.55" cy="278.3" r="1.3"/><circle cx="408.55" cy="283.87" r="1.3"/><circle cx="408.55" cy="285.34" r="1.3"/><circle cx="408.55" cy="287.37" r="1.3"/><circle cx="408.55" cy="288.85" r="1.3"/><circle cx="408.55" cy="289.78" r="1.3"/><circle cx="408.55" cy="291.09" r="1.3"/><circle cx="408.55" cy="292.08" r="1.3"/><circle cx="408.55" cy="293.37" r="1.3"/><circle cx="408.55" cy="294.48" r="1.3"/><circle cx="408.55" cy="295.08" r="1.3"/><circle cx="408.55" cy="296.34" r="1.3"/><circle cx="408.55" cy="297.29" r="1.3"/><circle cx="408.55" cy="297.88" r="1.3"/><circle cx="408.55" cy="301.05" r="1.3"/><circle cx="408.55" cy="303.11" r="1.3"/><circle cx="408.55" cy="309.1" r="1.3"/></g><path d="M407.05 292l3 3M407.05 295l3 -3" stroke="#333" stroke-width=".55" fill="none"/>
<path d="M418.35 281.8V291.3M418.35 300.5V313.4M416.75 281.8h3.2M416.75 313.4h3.2" stroke="#595959" stroke-width=".6" fill="none"/><rect x="413.95" y="291.3" width="8.8" height="9.2" fill="#a8d48c" stroke="#679a48" stroke-width=".7"/><path d="M413.95 295.6h8.8" stroke="#4d4d4d" stroke-width=".6"/><g fill="#90c46e" stroke="#505050" stroke-width=".4"><circle cx="418.35" cy="282" r="1.3"/><circle cx="418.35" cy="287.15" r="1.3"/><circle cx="418.35" cy="288.41" r="1.3"/><circle cx="418.35" cy="291" r="1.3"/><circle cx="418.35" cy="291.71" r="1.3"/><circle cx="418.35" cy="292.22" r="1.3"/><circle cx="418.35" cy="293.23" r="1.3"/><circle cx="418.35" cy="294.69" r="1.3"/><circle cx="418.35" cy="295.86" r="1.3"/><circle cx="418.35" cy="296.41" r="1.3"/><circle cx="418.35" cy="297.75" r="1.3"/><circle cx="418.35" cy="299.24" r="1.3"/><circle cx="418.35" cy="299.94" r="1.3"/><circle cx="418.35" cy="301.98" r="1.3"/><circle cx="418.35" cy="303.88" r="1.3"/><circle cx="418.35" cy="306.12" r="1.3"/><circle cx="418.35" cy="313.2" r="1.3"/></g><path d="M416.85 294.7l3 3M416.85 297.7l3 -3" stroke="#333" stroke-width=".55" fill="none"/>
<path d="M428.15 258.6V270.3M428.15 286.9V304.7M426.55 258.6h3.2M426.55 304.7h3.2" stroke="#595959" stroke-width=".6" fill="none"/><rect x="423.75" y="270.3" width="8.8" height="16.6" fill="#f6b381" stroke="#b07040" stroke-width=".7"/><path d="M423.75 278.1h8.8" stroke="#4d4d4d" stroke-width=".6"/><g fill="#ee9558" stroke="#505050" stroke-width=".4"><circle cx="428.15" cy="258.8" r="1.3"/><circle cx="428.15" cy="264.14" r="1.3"/><circle cx="428.15" cy="266.57" r="1.3"/><circle cx="428.15" cy="269.93" r="1.3"/><circle cx="428.15" cy="270.3" r="1.3"/><circle cx="428.15" cy="273.18" r="1.3"/><circle cx="428.15" cy="274" r="1.3"/><circle cx="428.15" cy="276.65" r="1.3"/><circle cx="428.15" cy="278.07" r="1.3"/><circle cx="428.15" cy="280.57" r="1.3"/><circle cx="428.15" cy="282.17" r="1.3"/><circle cx="428.15" cy="283.98" r="1.3"/><circle cx="428.15" cy="286.75" r="1.3"/><circle cx="428.15" cy="287.92" r="1.3"/><circle cx="428.15" cy="291" r="1.3"/><circle cx="428.15" cy="296.6" r="1.3"/><circle cx="428.15" cy="304.5" r="1.3"/></g><path d="M426.65 277.2l3 3M426.65 280.2l3 -3" stroke="#333" stroke-width=".55" fill="none"/>
<path d="M437.95 261.7V273.5M437.95 290V303.6M436.35 261.7h3.2M436.35 303.6h3.2" stroke="#595959" stroke-width=".6" fill="none"/><rect x="433.55" y="273.5" width="8.8" height="16.5" fill="#d2d2d2" stroke="#808080" stroke-width=".7"/><path d="M433.55 280.8h8.8" stroke="#4d4d4d" stroke-width=".6"/><g fill="#a8a8a8" stroke="#505050" stroke-width=".4"><circle cx="437.95" cy="261.9" r="1.3"/><circle cx="437.95" cy="267.6" r="1.3"/><circle cx="437.95" cy="271.23" r="1.3"/><circle cx="437.95" cy="273" r="1.3"/><circle cx="437.95" cy="274.05" r="1.3"/><circle cx="437.95" cy="275.42" r="1.3"/><circle cx="437.95" cy="277.28" r="1.3"/><circle cx="437.95" cy="279.55" r="1.3"/><circle cx="437.95" cy="280.65" r="1.3"/><circle cx="437.95" cy="283.24" r="1.3"/><circle cx="437.95" cy="285.28" r="1.3"/><circle cx="437.95" cy="287.89" r="1.3"/><circle cx="437.95" cy="289.92" r="1.3"/><circle cx="437.95" cy="290.72" r="1.3"/><circle cx="437.95" cy="292.57" r="1.3"/><circle cx="437.95" cy="296.45" r="1.3"/><circle cx="437.95" cy="303.4" r="1.3"/></g><path d="M436.45 279.9l3 3M436.45 282.9l3 -3" stroke="#333" stroke-width=".55" fill="none"/>
<path d="M447.75 261.1V276.2M447.75 289.6V304.7M446.15 261.1h3.2M446.15 304.7h3.2" stroke="#595959" stroke-width=".6" fill="none"/><rect x="443.35" y="276.2" width="8.8" height="13.4" fill="#9dc4e8" stroke="#5a86b4" stroke-width=".7"/><path d="M443.35 282.6h8.8" stroke="#4d4d4d" stroke-width=".6"/><g fill="#82b0e0" stroke="#505050" stroke-width=".4"><circle cx="447.75" cy="261.3" r="1.3"/><circle cx="447.75" cy="269.12" r="1.3"/><circle cx="447.75" cy="272.87" r="1.3"/><circle cx="447.75" cy="274.73" r="1.3"/><circle cx="447.75" cy="276.2" r="1.3"/><circle cx="447.75" cy="278.49" r="1.3"/><circle cx="447.75" cy="280.11" r="1.3"/><circle cx="447.75" cy="280.72" r="1.3"/><circle cx="447.75" cy="283.15" r="1.3"/><circle cx="447.75" cy="284.59" r="1.3"/><circle cx="447.75" cy="285.95" r="1.3"/><circle cx="447.75" cy="287.86" r="1.3"/><circle cx="447.75" cy="289.19" r="1.3"/><circle cx="447.75" cy="290.77" r="1.3"/><circle cx="447.75" cy="293.69" r="1.3"/><circle cx="447.75" cy="297.41" r="1.3"/><circle cx="447.75" cy="304.5" r="1.3"/></g><path d="M446.25 280.8l3 3M446.25 283.8l3 -3" stroke="#333" stroke-width=".55" fill="none"/>
<path d="M457.55 267.6V282.8M457.55 294.2V310.8M455.95 267.6h3.2M455.95 310.8h3.2" stroke="#595959" stroke-width=".6" fill="none"/><rect x="453.15" y="282.8" width="8.8" height="11.4" fill="#a8d48c" stroke="#679a48" stroke-width=".7"/><path d="M453.15 288.2h8.8" stroke="#4d4d4d" stroke-width=".6"/><g fill="#90c46e" stroke="#505050" stroke-width=".4"><circle cx="457.55" cy="267.8" r="1.3"/><circle cx="457.55" cy="273.52" r="1.3"/><circle cx="457.55" cy="278.53" r="1.3"/><circle cx="457.55" cy="281.99" r="1.3"/><circle cx="457.55" cy="283.5" r="1.3"/><circle cx="457.55" cy="284.47" r="1.3"/><circle cx="457.55" cy="285.22" r="1.3"/><circle cx="457.55" cy="286.83" r="1.3"/><circle cx="457.55" cy="288.24" r="1.3"/><circle cx="457.55" cy="289.65" r="1.3"/><circle cx="457.55" cy="290.88" r="1.3"/><circle cx="457.55" cy="292" r="1.3"/><circle cx="457.55" cy="293.75" r="1.3"/><circle cx="457.55" cy="295.47" r="1.3"/><circle cx="457.55" cy="297.97" r="1.3"/><circle cx="457.55" cy="303.96" r="1.3"/><circle cx="457.55" cy="310.6" r="1.3"/></g><path d="M456.05 287.3l3 3M456.05 290.3l3 -3" stroke="#333" stroke-width=".55" fill="none"/>
<path d="M467.35 256.2V277.1M467.35 293.9V310M465.75 256.2h3.2M465.75 310h3.2" stroke="#595959" stroke-width=".6" fill="none"/><rect x="462.95" y="277.1" width="8.8" height="16.8" fill="#f6b381" stroke="#b07040" stroke-width=".7"/><path d="M462.95 287.2h8.8" stroke="#4d4d4d" stroke-width=".6"/><g fill="#ee9558" stroke="#505050" stroke-width=".4"><circle cx="467.35" cy="256.4" r="1.3"/><circle cx="467.35" cy="264.91" r="1.3"/><circle cx="467.35" cy="270.53" r="1.3"/><circle cx="467.35" cy="274.81" r="1.3"/><circle cx="467.35" cy="278.03" r="1.3"/><circle cx="467.35" cy="279.84" r="1.3"/><circle cx="467.35" cy="282.55" r="1.3"/><circle cx="467.35" cy="284.66" r="1.3"/><circle cx="467.35" cy="287.22" r="1.3"/><circle cx="467.35" cy="288.39" r="1.3"/><circle cx="467.35" cy="289.85" r="1.3"/><circle cx="467.35" cy="292.48" r="1.3"/><circle cx="467.35" cy="293.37" r="1.3"/><circle cx="467.35" cy="294.5" r="1.3"/><circle cx="467.35" cy="298.5" r="1.3"/><circle cx="467.35" cy="303.22" r="1.3"/><circle cx="467.35" cy="309.8" r="1.3"/></g><path d="M465.85 286.3l3 3M465.85 289.3l3 -3" stroke="#333" stroke-width=".55" fill="none"/>
<path d="M477.15 277.7V288.7M477.15 302.5V313.5M475.55 277.7h3.2M475.55 313.5h3.2" stroke="#595959" stroke-width=".6" fill="none"/><rect x="472.75" y="288.7" width="8.8" height="13.8" fill="#d2d2d2" stroke="#808080" stroke-width=".7"/><path d="M472.75 296.1h8.8" stroke="#4d4d4d" stroke-width=".6"/><g fill="#a8a8a8" stroke="#505050" stroke-width=".4"><circle cx="477.15" cy="277.9" r="1.3"/><circle cx="477.15" cy="282.49" r="1.3"/><circle cx="477.15" cy="285.98" r="1.3"/><circle cx="477.15" cy="287.38" r="1.3"/><circle cx="477.15" cy="288.78" r="1.3"/><circle cx="477.15" cy="291.33" r="1.3"/><circle cx="477.15" cy="292.7" r="1.3"/><circle cx="477.15" cy="294.46" r="1.3"/><circle cx="477.15" cy="295.75" r="1.3"/><circle cx="477.15" cy="298.05" r="1.3"/><circle cx="477.15" cy="298.88" r="1.3"/><circle cx="477.15" cy="300.19" r="1.3"/><circle cx="477.15" cy="302.07" r="1.3"/><circle cx="477.15" cy="303.42" r="1.3"/><circle cx="477.15" cy="305.6" r="1.3"/><circle cx="477.15" cy="307.44" r="1.3"/><circle cx="477.15" cy="313.3" r="1.3"/></g><path d="M475.65 294.6l3 3M475.65 297.6l3 -3" stroke="#333" stroke-width=".55" fill="none"/>
<path d="M486.95 275.8V284.5M486.95 299.2V313.3M485.35 275.8h3.2M485.35 313.3h3.2" stroke="#595959" stroke-width=".6" fill="none"/><rect x="482.55" y="284.5" width="8.8" height="14.7" fill="#9dc4e8" stroke="#5a86b4" stroke-width=".7"/><path d="M482.55 292.8h8.8" stroke="#4d4d4d" stroke-width=".6"/><g fill="#82b0e0" stroke="#505050" stroke-width=".4"><circle cx="486.95" cy="276" r="1.3"/><circle cx="486.95" cy="279.41" r="1.3"/><circle cx="486.95" cy="281.6" r="1.3"/><circle cx="486.95" cy="283.41" r="1.3"/><circle cx="486.95" cy="285.07" r="1.3"/><circle cx="486.95" cy="287.45" r="1.3"/><circle cx="486.95" cy="288.84" r="1.3"/><circle cx="486.95" cy="291.46" r="1.3"/><circle cx="486.95" cy="293.23" r="1.3"/><circle cx="486.95" cy="293.85" r="1.3"/><circle cx="486.95" cy="295.92" r="1.3"/><circle cx="486.95" cy="297.21" r="1.3"/><circle cx="486.95" cy="298.42" r="1.3"/><circle cx="486.95" cy="300.98" r="1.3"/><circle cx="486.95" cy="302.4" r="1.3"/><circle cx="486.95" cy="306.72" r="1.3"/><circle cx="486.95" cy="313.1" r="1.3"/></g><path d="M485.45 291.9l3 3M485.45 294.9l3 -3" stroke="#333" stroke-width=".55" fill="none"/>
<path d="M496.75 274V282.6M496.75 297V311.2M495.15 274h3.2M495.15 311.2h3.2" stroke="#595959" stroke-width=".6" fill="none"/><rect x="492.35" y="282.6" width="8.8" height="14.4" fill="#a8d48c" stroke="#679a48" stroke-width=".7"/><path d="M492.35 290h8.8" stroke="#4d4d4d" stroke-width=".6"/><g fill="#90c46e" stroke="#505050" stroke-width=".4"><circle cx="496.75" cy="274.2" r="1.3"/><circle cx="496.75" cy="278.04" r="1.3"/><circle cx="496.75" cy="279.85" r="1.3"/><circle cx="496.75" cy="282.33" r="1.3"/><circle cx="496.75" cy="283.63" r="1.3"/><circle cx="496.75" cy="284.44" r="1.3"/><circle cx="496.75" cy="285.96" r="1.3"/><circle cx="496.75" cy="287.96" r="1.3"/><circle cx="496.75" cy="289.82" r="1.3"/><circle cx="496.75" cy="292.11" r="1.3"/><circle cx="496.75" cy="293.76" r="1.3"/><circle cx="496.75" cy="295.33" r="1.3"/><circle cx="496.75" cy="296.07" r="1.3"/><circle cx="496.75" cy="298.5" r="1.3"/><circle cx="496.75" cy="301.23" r="1.3"/><circle cx="496.75" cy="304.81" r="1.3"/><circle cx="496.75" cy="311" r="1.3"/></g><path d="M495.25 287.9l3 3M495.25 290.9l3 -3" stroke="#333" stroke-width=".55" fill="none"/>
<path d="M506.55 248.4V257.3M506.55 265.5V274M504.95 248.4h3.2M504.95 274h3.2" stroke="#595959" stroke-width=".6" fill="none"/><rect x="502.15" y="257.3" width="8.8" height="8.2" fill="#f6b381" stroke="#b07040" stroke-width=".7"/><path d="M502.15 261.6h8.8" stroke="#4d4d4d" stroke-width=".6"/><g fill="#ee9558" stroke="#505050" stroke-width=".4"><circle cx="506.55" cy="248.6" r="1.3"/><circle cx="506.55" cy="252.34" r="1.3"/><circle cx="506.55" cy="254.22" r="1.3"/><circle cx="506.55" cy="256.34" r="1.3"/><circle cx="506.55" cy="257.73" r="1.3"/><circle cx="506.55" cy="258.63" r="1.3"/><circle cx="506.55" cy="259.53" r="1.3"/><circle cx="506.55" cy="260.7" r="1.3"/><circle cx="506.55" cy="261.58" r="1.3"/><circle cx="506.55" cy="262.44" r="1.3"/><circle cx="506.55" cy="263.36" r="1.3"/><circle cx="506.55" cy="264.27" r="1.3"/><circle cx="506.55" cy="265.19" r="1.3"/><circle cx="506.55" cy="266.08" r="1.3"/><circle cx="506.55" cy="268.17" r="1.3"/><circle cx="506.55" cy="270.64" r="1.3"/><circle cx="506.55" cy="273.8" r="1.3"/><circle cx="506.55" cy="242.9" r="1.3"/><circle cx="506.55" cy="278.4" r="1.3"/></g><path d="M505.05 260.4l3 3M505.05 263.4l3 -3" stroke="#333" stroke-width=".55" fill="none"/>
<path d="M516.35 239.2V257.6M516.35 274.5V288.5M514.75 239.2h3.2M514.75 288.5h3.2" stroke="#595959" stroke-width=".6" fill="none"/><rect x="511.95" y="257.6" width="8.8" height="16.9" fill="#d2d2d2" stroke="#808080" stroke-width=".7"/><path d="M511.95 264.6h8.8" stroke="#4d4d4d" stroke-width=".6"/><g fill="#a8a8a8" stroke="#505050" stroke-width=".4"><circle cx="516.35" cy="239.4" r="1.3"/><circle cx="516.35" cy="246.89" r="1.3"/><circle cx="516.35" cy="251.32" r="1.3"/><circle cx="516.35" cy="256.96" r="1.3"/><circle cx="516.35" cy="257.69" r="1.3"/><circle cx="516.35" cy="260.16" r="1.3"/><circle cx="516.35" cy="261.73" r="1.3"/><circle cx="516.35" cy="263.4" r="1.3"/><circle cx="516.35" cy="264.18" r="1.3"/><circle cx="516.35" cy="266.84" r="1.3"/><circle cx="516.35" cy="268.6" r="1.3"/><circle cx="516.35" cy="272.29" r="1.3"/><circle cx="516.35" cy="274.48" r="1.3"/><circle cx="516.35" cy="275.73" r="1.3"/><circle cx="516.35" cy="278.09" r="1.3"/><circle cx="516.35" cy="281.35" r="1.3"/><circle cx="516.35" cy="288.3" r="1.3"/></g><path d="M514.85 263.4l3 3M514.85 266.4l3 -3" stroke="#333" stroke-width=".55" fill="none"/>
<path d="M526.15 248.4V261.3M526.15 269.2V277.8M524.55 248.4h3.2M524.55 277.8h3.2" stroke="#595959" stroke-width=".6" fill="none"/><rect x="521.75" y="261.3" width="8.8" height="7.9" fill="#9dc4e8" stroke="#5a86b4" stroke-width=".7"/><path d="M521.75 264.9h8.8" stroke="#4d4d4d" stroke-width=".6"/><g fill="#82b0e0" stroke="#505050" stroke-width=".4"><circle cx="526.15" cy="248.6" r="1.3"/><circle cx="526.15" cy="254.24" r="1.3"/><circle cx="526.15" cy="257.54" r="1.3"/><circle cx="526.15" cy="260.64" r="1.3"/><circle cx="526.15" cy="261.32" r="1.3"/><circle cx="526.15" cy="262.33" r="1.3"/><circle cx="526.15" cy="263.44" r="1.3"/><circle cx="526.15" cy="264.02" r="1.3"/><circle cx="526.15" cy="264.69" r="1.3"/><circle cx="526.15" cy="265.85" r="1.3"/><circle cx="526.15" cy="266.74" r="1.3"/><circle cx="526.15" cy="267.6" r="1.3"/><circle cx="526.15" cy="269" r="1.3"/><circle cx="526.15" cy="269.66" r="1.3"/><circle cx="526.15" cy="271.9" r="1.3"/><circle cx="526.15" cy="273.27" r="1.3"/><circle cx="526.15" cy="277.6" r="1.3"/><circle cx="526.15" cy="282.4" r="1.3"/></g><path d="M524.65 263.7l3 3M524.65 266.7l3 -3" stroke="#333" stroke-width=".55" fill="none"/>
<path d="M535.95 263.1V276M535.95 283.9V293.4M534.35 263.1h3.2M534.35 293.4h3.2" stroke="#595959" stroke-width=".6" fill="none"/><rect x="531.55" y="276" width="8.8" height="7.9" fill="#a8d48c" stroke="#679a48" stroke-width=".7"/><path d="M531.55 280h8.8" stroke="#4d4d4d" stroke-width=".6"/><g fill="#90c46e" stroke="#505050" stroke-width=".4"><circle cx="535.95" cy="263.3" r="1.3"/><circle cx="535.95" cy="268.27" r="1.3"/><circle cx="535.95" cy="273.52" r="1.3"/><circle cx="535.95" cy="274.39" r="1.3"/><circle cx="535.95" cy="276.5" r="1.3"/><circle cx="535.95" cy="277.29" r="1.3"/><circle cx="535.95" cy="277.93" r="1.3"/><circle cx="535.95" cy="279.04" r="1.3"/><circle cx="535.95" cy="279.86" r="1.3"/><circle cx="535.95" cy="280.76" r="1.3"/><circle cx="535.95" cy="281.64" r="1.3"/><circle cx="535.95" cy="282.67" r="1.3"/><circle cx="535.95" cy="283.93" r="1.3"/><circle cx="535.95" cy="285.15" r="1.3"/><circle cx="535.95" cy="287.08" r="1.3"/><circle cx="535.95" cy="288.1" r="1.3"/><circle cx="535.95" cy="293.2" r="1.3"/><circle cx="535.95" cy="298" r="1.3"/></g><path d="M534.45 278.2l3 3M534.45 281.2l3 -3" stroke="#333" stroke-width=".55" fill="none"/>
</g>
<g id="legend">
<rect x="193.5" y="398.0" width="5.9" height="5.7" fill="#f6b381" stroke="#b07040" stroke-width=".7"/><rect x="219.7" y="398.0" width="5.9" height="5.7" fill="#d2d2d2" stroke="#808080" stroke-width=".7"/><rect x="262.3" y="398.0" width="5.9" height="5.7" fill="#9dc4e8" stroke="#5a86b4" stroke-width=".7"/><rect x="304.2" y="398.0" width="5.9" height="5.7" fill="#a8d48c" stroke="#679a48" stroke-width=".7"/>
</g>
<g id="labels">
<text x="273.9" y="6.9" font-size="6.1" text-anchor="middle" textLength="22.4" lengthAdjust="spacingAndGlyphs" class="c">WINTER</text>
<text x="273.8" y="199.7" font-size="6.1" text-anchor="middle" textLength="20.9" lengthAdjust="spacingAndGlyphs" class="c">SPRING</text>
<text x="25.2" y="16.85" font-size="5.2" text-anchor="end" textLength="9.2" lengthAdjust="spacingAndGlyphs">21.0</text>
<text x="25.2" y="36.65" font-size="5.2" text-anchor="end" textLength="9.2" lengthAdjust="spacingAndGlyphs">19.0</text>
<text x="25.2" y="56.45" font-size="5.2" text-anchor="end" textLength="9.2" lengthAdjust="spacingAndGlyphs">17.0</text>
<text x="25.2" y="76.25" font-size="5.2" text-anchor="end" textLength="9.2" lengthAdjust="spacingAndGlyphs">15.0</text>
<text x="25.2" y="96.05" font-size="5.2" text-anchor="end" textLength="9.2" lengthAdjust="spacingAndGlyphs">13.0</text>
<text x="25.2" y="115.85" font-size="5.2" text-anchor="end" textLength="9.2" lengthAdjust="spacingAndGlyphs">11.0</text>
<text x="25.2" y="135.65" font-size="5.2" text-anchor="end" textLength="6.8" lengthAdjust="spacingAndGlyphs">9.0</text>
<text x="25.2" y="155.45" font-size="5.2" text-anchor="end" textLength="6.8" lengthAdjust="spacingAndGlyphs">7.0</text>
<text x="25.2" y="175.25" font-size="5.2" text-anchor="end" textLength="6.8" lengthAdjust="spacingAndGlyphs">5.0</text>
<text x="25.2" y="210" font-size="5.2" text-anchor="end" textLength="9.2" lengthAdjust="spacingAndGlyphs">30.0</text>
<text x="25.2" y="225.35" font-size="5.2" text-anchor="end" textLength="9.2" lengthAdjust="spacingAndGlyphs">28.0</text>
<text x="25.2" y="240.7" font-size="5.2" text-anchor="end" textLength="9.2" lengthAdjust="spacingAndGlyphs">26.0</text>
<text x="25.2" y="256.05" font-size="5.2" text-anchor="end" textLength="9.2" lengthAdjust="spacingAndGlyphs">24.0</text>
<text x="25.2" y="271.4" font-size="5.2" text-anchor="end" textLength="9.2" lengthAdjust="spacingAndGlyphs">22.0</text>
<text x="25.2" y="286.75" font-size="5.2" text-anchor="end" textLength="9.2" lengthAdjust="spacingAndGlyphs">20.0</text>
<text x="25.2" y="302.1" font-size="5.2" text-anchor="end" textLength="9.2" lengthAdjust="spacingAndGlyphs">18.0</text>
<text x="25.2" y="317.45" font-size="5.2" text-anchor="end" textLength="9.2" lengthAdjust="spacingAndGlyphs">16.0</text>
<text x="25.2" y="332.8" font-size="5.2" text-anchor="end" textLength="9.2" lengthAdjust="spacingAndGlyphs">14.0</text>
<text x="25.2" y="348.15" font-size="5.2" text-anchor="end" textLength="9.2" lengthAdjust="spacingAndGlyphs">12.0</text>
<text x="25.2" y="363.5" font-size="5.2" text-anchor="end" textLength="9.2" lengthAdjust="spacingAndGlyphs">10.0</text>
<text transform="translate(8.7 94.8) rotate(-90)" font-size="5.1" text-anchor="middle" textLength="76.5" lengthAdjust="spacingAndGlyphs">Mean maximum temperature(°C)</text>
<text transform="translate(8.7 284.5) rotate(-90)" font-size="5.1" text-anchor="middle" textLength="76.5" lengthAdjust="spacingAndGlyphs">Mean maximum temperature(°C)</text>
<text x="52.4" y="180.7" font-size="4.6" text-anchor="middle" textLength="25.06" lengthAdjust="spacingAndGlyphs" class="c">MALAGA, SP</text>
<text x="49.5" y="369.6" font-size="4.6" text-anchor="middle" textLength="24.9" lengthAdjust="spacingAndGlyphs" class="c">MALAGA, SP</text>
<text x="92.3" y="180.7" font-size="4.6" text-anchor="middle" textLength="29.64" lengthAdjust="spacingAndGlyphs" class="c">GRANADA, SP</text>
<text x="89.5" y="369.9" font-size="4.6" text-anchor="middle" textLength="27.8" lengthAdjust="spacingAndGlyphs" class="c">GRANADA, SP</text>
<text x="133.2" y="180.7" font-size="4.6" text-anchor="middle" textLength="24.86" lengthAdjust="spacingAndGlyphs" class="c">MELILLA, SP</text>
<text x="130" y="369.9" font-size="4.6" text-anchor="middle" textLength="23.5" lengthAdjust="spacingAndGlyphs" class="c">MELILLA, SP</text>
<text x="170.6" y="180.5" font-size="4.6" text-anchor="middle" textLength="21.63" lengthAdjust="spacingAndGlyphs" class="c">LLEIDA, SP</text>
<text x="167.7" y="369.6" font-size="4.6" text-anchor="middle" textLength="20.6" lengthAdjust="spacingAndGlyphs" class="c">LLEIDA, SP</text>
<text x="207.5" y="181.2" font-size="4.6" text-anchor="middle" textLength="32.24" lengthAdjust="spacingAndGlyphs" class="c">PERPIGNAN, FR</text>
<text x="206.4" y="369.9" font-size="4.6" text-anchor="middle" textLength="30.7" lengthAdjust="spacingAndGlyphs" class="c">PERPIGNAN, FR</text>
<text x="250.1" y="181.2" font-size="4.6" text-anchor="middle" textLength="37.75" lengthAdjust="spacingAndGlyphs" class="c">MONTPELLIER, FR</text>
<text x="247.6" y="370" font-size="4.6" text-anchor="middle" textLength="35.4" lengthAdjust="spacingAndGlyphs" class="c">MONTPELLIER, FR</text>
<text x="289" y="181.2" font-size="4.6" text-anchor="middle" textLength="31.72" lengthAdjust="spacingAndGlyphs" class="c">MARSEILLES, FR</text>
<text x="287" y="369.9" font-size="4.6" text-anchor="middle" textLength="31.7" lengthAdjust="spacingAndGlyphs" class="c">MARSEILLES, FR</text>
<text x="327.4" y="181.2" font-size="4.6" text-anchor="middle" textLength="17.68" lengthAdjust="spacingAndGlyphs" class="c">NICE, FR</text>
<text x="326.5" y="369.2" font-size="4.6" text-anchor="middle" textLength="16.3" lengthAdjust="spacingAndGlyphs" class="c">NICE, FR</text>
<text x="364.7" y="181.3" font-size="4.6" text-anchor="middle" textLength="23.82" lengthAdjust="spacingAndGlyphs" class="c">CAGLIARI,IT</text>
<text x="365" y="370.6" font-size="4.6" text-anchor="middle" textLength="22.9" lengthAdjust="spacingAndGlyphs" class="c">CAGLIARI,IT</text>
<text x="407.7" y="182.2" font-size="4.6" text-anchor="middle" textLength="24.86" lengthAdjust="spacingAndGlyphs" class="c">BRINDISI, IT</text>
<text x="404" y="370.6" font-size="4.6" text-anchor="middle" textLength="23.5" lengthAdjust="spacingAndGlyphs" class="c">BRINDISI, IT</text>
<text x="444" y="182.3" font-size="4.6" text-anchor="middle" textLength="22.98" lengthAdjust="spacingAndGlyphs" class="c">LARISA, GR</text>
<text x="441.2" y="371" font-size="4.6" text-anchor="middle" textLength="21.3" lengthAdjust="spacingAndGlyphs" class="c">LARISA, GR</text>
<text x="483.2" y="181.5" font-size="4.6" text-anchor="middle" textLength="38.38" lengthAdjust="spacingAndGlyphs" class="c">THESSALONIKI, GR</text>
<text x="481.8" y="371" font-size="4.6" text-anchor="middle" textLength="36.9" lengthAdjust="spacingAndGlyphs" class="c">THESSALONIKI, GR</text>
<text x="526.1" y="181.5" font-size="4.6" text-anchor="middle" textLength="28.39" lengthAdjust="spacingAndGlyphs" class="c">LARNACA, CY</text>
<text x="523.5" y="371" font-size="4.6" text-anchor="middle" textLength="26.9" lengthAdjust="spacingAndGlyphs" class="c">LARNACA, CY</text>
<text x="203.1" y="403.5" font-size="6.7" text-anchor="start" textLength="12" lengthAdjust="spacingAndGlyphs" class="l">OBS</text>
<text x="229.3" y="403.5" font-size="6.7" text-anchor="start" textLength="27.9" lengthAdjust="spacingAndGlyphs" class="l">Agri4cast</text>
<text x="271.8" y="403.5" font-size="6.7" text-anchor="start" textLength="26.4" lengthAdjust="spacingAndGlyphs" class="l">EOBS-0.1</text>
<text x="313.7" y="403.5" font-size="6.7" text-anchor="start" textLength="30.3" lengthAdjust="spacingAndGlyphs" class="l">EOBS-0.25</text>
</g>
</svg>
</body></html>
